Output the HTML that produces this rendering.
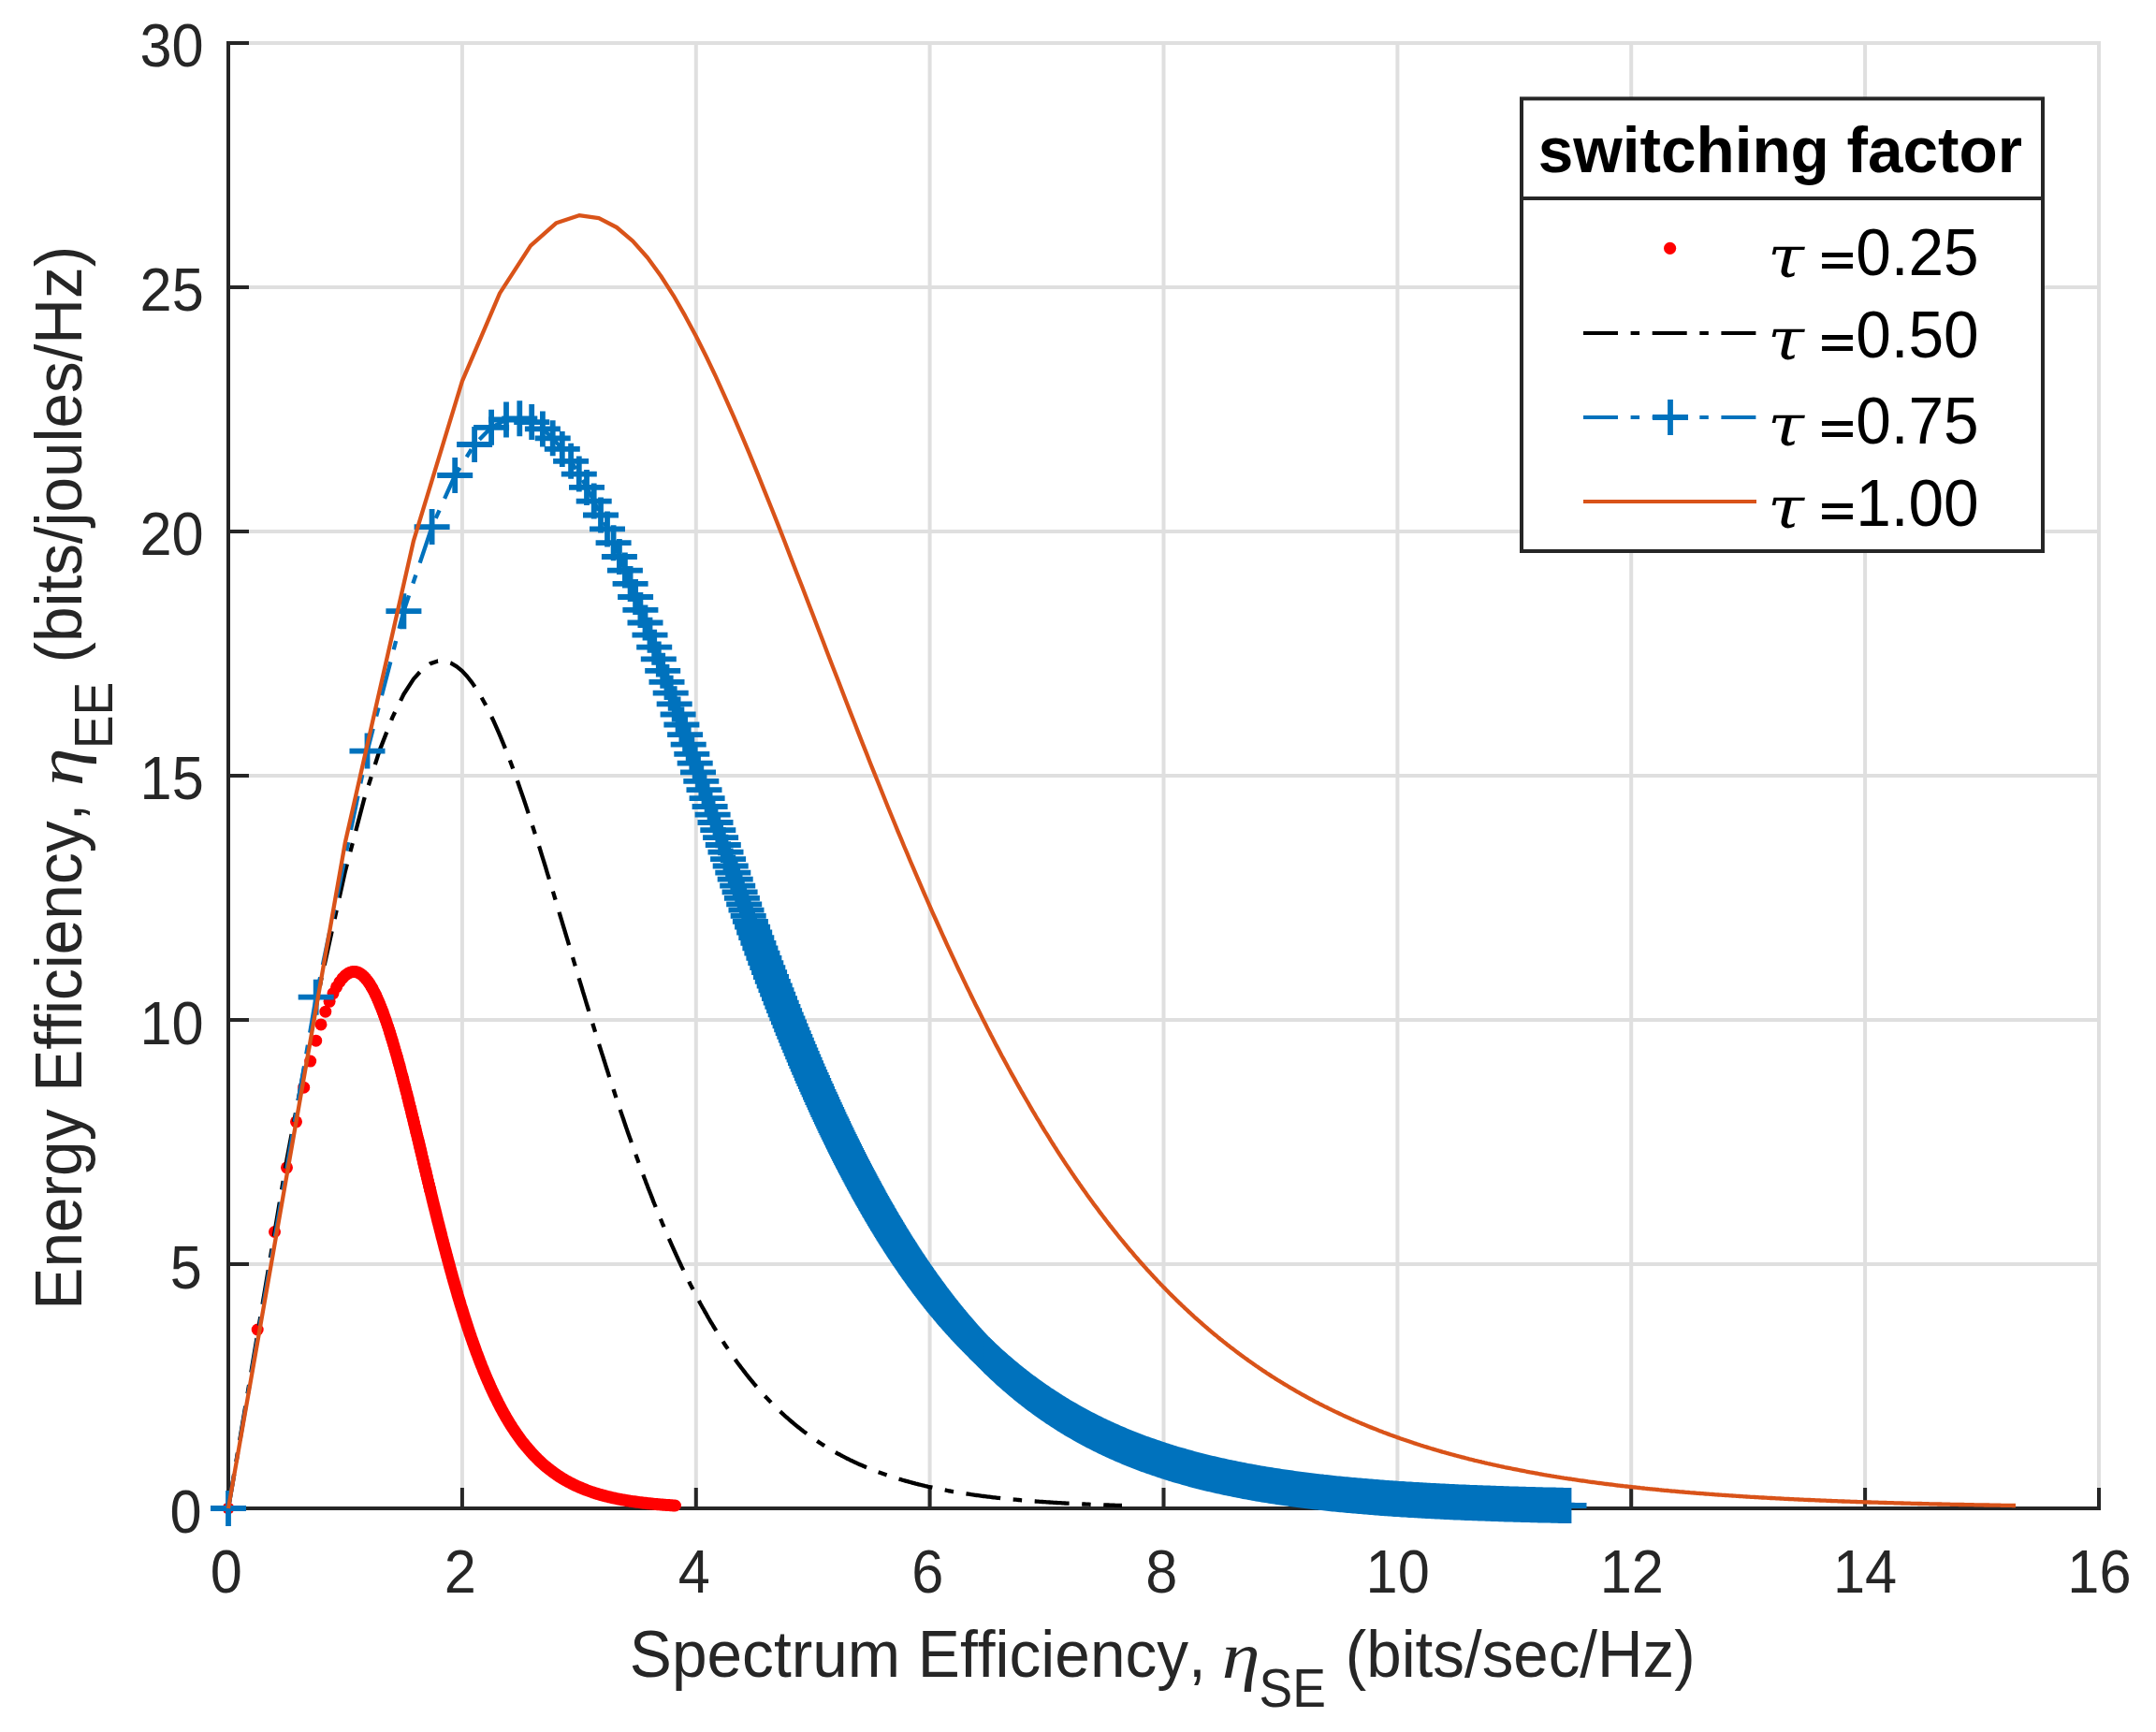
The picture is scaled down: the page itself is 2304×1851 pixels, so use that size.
<!DOCTYPE html>
<html><head><meta charset="utf-8"><title>Energy Efficiency vs Spectrum Efficiency</title>
<style>html,body{margin:0;padding:0;background:#fff;overflow:hidden}svg{display:block}text{font-family:"Liberation Sans",sans-serif;font-kerning:none;font-variant-ligatures:none;font-feature-settings:"liga" 0,"kern" 0}.gr{font-family:"Liberation Serif",serif;font-style:italic}.gd{font-family:"DejaVu Serif","Liberation Serif",serif;font-style:italic}.ds{font-family:"DejaVu Sans","Liberation Sans",sans-serif}</style></head><body>
<svg width="2304" height="1851" viewBox="0 0 2304 1851">
<rect width="2304" height="1851" fill="#fff"/>
<path d="M493.9 44 V1612 M743.8 44 V1612 M993.6 44 V1612 M1243.5 44 V1612 M1493.4 44 V1612 M1743.2 44 V1612 M1993.1 44 V1612 M2243 44 V1612 M244 1351 H2245 M244 1090 H2245 M244 829 H2245 M244 568 H2245 M244 307 H2245 M244 46 H2245" stroke="#dfdfdf" stroke-width="4" fill="none"/>
<path d="M244 44 V1614 M242 1612 H2245 M244 1612 V1590 M493.9 1612 V1590 M743.8 1612 V1590 M993.6 1612 V1590 M1243.5 1612 V1590 M1493.4 1612 V1590 M1743.2 1612 V1590 M1993.1 1612 V1590 M2243 1612 V1590 M244 1612 H266 M244 1351 H266 M244 1090 H266 M244 829 H266 M244 568 H266 M244 307 H266 M244 46 H266" stroke="#262626" stroke-width="4" fill="none"/>
<g fill="#262626">
<text transform="translate(224.75,1701.60) scale(1,1.05)" font-size="61.3">0</text>
<text transform="translate(474.63,1701.60) scale(1,1.05)" font-size="61.3">2</text>
<text transform="translate(724.70,1701.60) scale(1,1.05)" font-size="61.3">4</text>
<text transform="translate(974.17,1701.60) scale(1,1.05)" font-size="61.3">6</text>
<text transform="translate(1224.25,1701.60) scale(1,1.05)" font-size="61.3">8</text>
<text transform="translate(1459.55,1701.60) scale(1,1.05)" font-size="61.3">10</text>
<text transform="translate(1709.76,1701.60) scale(1,1.05)" font-size="61.3">12</text>
<text transform="translate(1959.00,1701.60) scale(1,1.05)" font-size="61.3">14</text>
<text transform="translate(2209.32,1701.60) scale(1,1.05)" font-size="61.3">16</text>
<text transform="translate(181.50,1638.00) scale(1,1.05)" font-size="61.3">0</text>
<text transform="translate(181.68,1376.78) scale(1,1.05)" font-size="61.3">5</text>
<text transform="translate(149.41,1115.57) scale(1,1.05)" font-size="61.3">10</text>
<text transform="translate(149.59,854.35) scale(1,1.05)" font-size="61.3">15</text>
<text transform="translate(149.41,593.13) scale(1,1.05)" font-size="61.3">20</text>
<text transform="translate(149.59,331.92) scale(1,1.05)" font-size="61.3">25</text>
<text transform="translate(149.41,70.70) scale(1,1.05)" font-size="61.3">30</text>
</g>
<g fill="#262626">
<text transform="translate(672.83,1792.00) scale(1,1.04)" font-size="67.6">Spectrum Efficiency,</text>
<text transform="translate(1305.86,1793.26) scale(1.192,1)" font-size="69.09" class="gr">η</text>
<text transform="translate(1345.57,1823.90) scale(1,1.055)" font-size="53.5">SE</text>
<text transform="translate(1437.83,1792.00) scale(1,1.04)" font-size="67.3">(bits/sec/Hz)</text>
<g transform="translate(87,0) rotate(-90)">
<text transform="translate(-1399.65,0.00) scale(1,1.04)" font-size="67.6">Energy Efficiency,</text>
<text transform="translate(-840.14,1.26) scale(1.192,1)" font-size="69.09" class="gr">η</text>
<text transform="translate(-800.19,33.00) scale(1,1.055)" font-size="53.5">EE</text>
<text transform="translate(-708.48,0.00) scale(1,1.04)" font-size="67.4">(bits/joules/Hz)</text>
</g></g>
<g fill="#ff0000">
<circle cx="244" cy="1612" r="6.5"/>
<circle cx="275.2" cy="1421" r="6.5"/>
<circle cx="293.5" cy="1316.5" r="6.5"/>
<circle cx="306.5" cy="1247.8" r="6.5"/>
<circle cx="316.5" cy="1198.8" r="6.5"/>
<circle cx="324.7" cy="1162.2" r="6.5"/>
<circle cx="331.7" cy="1134.1" r="6.5"/>
<circle cx="337.7" cy="1112.2" r="6.5"/>
<circle cx="343" cy="1094.9" r="6.5"/>
<circle cx="347.8" cy="1081.2" r="6.5"/>
<circle cx="352.1" cy="1070.3" r="6.5"/>
<circle cx="356" cy="1061.6" r="6.5"/>
<circle cx="359.6" cy="1054.8" r="6.5"/>
<circle cx="362.9" cy="1049.5" r="6.5"/>
<circle cx="366" cy="1045.5" r="6.5"/>
<circle cx="368.9" cy="1042.5" r="6.5"/>
<circle cx="371.7" cy="1040.5" r="6.5"/>
<circle cx="374.2" cy="1039.2" r="6.5"/>
<circle cx="376.7" cy="1038.5" r="6.5"/>
<circle cx="379" cy="1038.4" r="6.5"/>
<circle cx="381.2" cy="1038.8" r="6.5"/>
<circle cx="383.3" cy="1039.6" r="6.5"/>
<circle cx="385.3" cy="1040.7" r="6.5"/>
<circle cx="387.2" cy="1042.2" r="6.5"/>
<circle cx="389" cy="1043.9" r="6.5"/>
<circle cx="390.8" cy="1045.8" r="6.5"/>
<circle cx="392.5" cy="1047.9" r="6.5"/>
<circle cx="394.2" cy="1050.2" r="6.5"/>
<circle cx="395.7" cy="1052.6" r="6.5"/>
<circle cx="397.3" cy="1055.2" r="6.5"/>
<circle cx="398.7" cy="1057.8" r="6.5"/>
<circle cx="400.2" cy="1060.6" r="6.5"/>
<circle cx="401.6" cy="1063.4" r="6.5"/>
<circle cx="402.9" cy="1066.3" r="6.5"/>
<circle cx="404.2" cy="1069.3" r="6.5"/>
<circle cx="405.5" cy="1072.3" r="6.5"/>
<circle cx="406.7" cy="1075.3" r="6.5"/>
<circle cx="407.9" cy="1078.3" r="6.5"/>
<circle cx="409.1" cy="1081.4" r="6.5"/>
<circle cx="410.2" cy="1084.5" r="6.5"/>
<circle cx="411.3" cy="1087.6" r="6.5"/>
<circle cx="412.4" cy="1090.7" r="6.5"/>
<circle cx="413.5" cy="1093.9" r="6.5"/>
<circle cx="414.5" cy="1097" r="6.5"/>
<circle cx="415.5" cy="1100.1" r="6.5"/>
<circle cx="416.5" cy="1103.2" r="6.5"/>
<circle cx="417.5" cy="1106.3" r="6.5"/>
<circle cx="418.4" cy="1109.4" r="6.5"/>
<circle cx="419.4" cy="1112.4" r="6.5"/>
<circle cx="420.3" cy="1115.5" r="6.5"/>
<circle cx="421.2" cy="1118.5" r="6.5"/>
<circle cx="422" cy="1121.5" r="6.5"/>
<circle cx="422.9" cy="1124.5" r="6.5"/>
<circle cx="423.8" cy="1127.5" r="6.5"/>
<circle cx="424.6" cy="1130.4" r="6.5"/>
<circle cx="425.4" cy="1133.4" r="6.5"/>
<circle cx="426.2" cy="1136.3" r="6.5"/>
<circle cx="427" cy="1139.1" r="6.5"/>
<circle cx="427.7" cy="1142" r="6.5"/>
<circle cx="428.5" cy="1144.8" r="6.5"/>
<circle cx="429.2" cy="1147.6" r="6.5"/>
<circle cx="430" cy="1150.4" r="6.5"/>
<circle cx="430.7" cy="1153.2" r="6.5"/>
<circle cx="431.4" cy="1155.9" r="6.5"/>
<circle cx="432.1" cy="1158.6" r="6.5"/>
<circle cx="432.8" cy="1161.3" r="6.5"/>
<circle cx="433.5" cy="1163.9" r="6.5"/>
<circle cx="434.1" cy="1166.5" r="6.5"/>
<circle cx="434.8" cy="1169.1" r="6.5"/>
<circle cx="435.4" cy="1171.7" r="6.5"/>
<circle cx="436.1" cy="1174.2" r="6.5"/>
<circle cx="436.7" cy="1176.8" r="6.5"/>
<circle cx="437.3" cy="1179.3" r="6.5"/>
<circle cx="437.9" cy="1181.7" r="6.5"/>
<circle cx="438.6" cy="1184.2" r="6.5"/>
<circle cx="439.2" cy="1186.6" r="6.5"/>
<circle cx="439.7" cy="1189" r="6.5"/>
<circle cx="440.3" cy="1191.4" r="6.5"/>
<circle cx="440.9" cy="1193.7" r="6.5"/>
<circle cx="441.5" cy="1196" r="6.5"/>
<circle cx="442" cy="1198.3" r="6.5"/>
<circle cx="442.6" cy="1200.6" r="6.5"/>
<circle cx="443.1" cy="1202.8" r="6.5"/>
<circle cx="443.7" cy="1205.1" r="6.5"/>
<circle cx="444.2" cy="1207.3" r="6.5"/>
<circle cx="444.7" cy="1209.5" r="6.5"/>
<circle cx="445.2" cy="1211.6" r="6.5"/>
<circle cx="445.8" cy="1213.8" r="6.5"/>
<circle cx="446.3" cy="1215.9" r="6.5"/>
<circle cx="446.8" cy="1218" r="6.5"/>
<circle cx="447.3" cy="1220" r="6.5"/>
<circle cx="447.8" cy="1222.1" r="6.5"/>
<circle cx="448.2" cy="1224.1" r="6.5"/>
<circle cx="448.7" cy="1226.1" r="6.5"/>
<circle cx="449.2" cy="1228.1" r="6.5"/>
<circle cx="449.7" cy="1230.1" r="6.5"/>
<circle cx="450.1" cy="1232" r="6.5"/>
<circle cx="450.6" cy="1233.9" r="6.5"/>
<circle cx="451.1" cy="1235.9" r="6.5"/>
<circle cx="451.5" cy="1237.7" r="6.5"/>
<circle cx="452" cy="1239.6" r="6.5"/>
<circle cx="452.4" cy="1241.5" r="6.5"/>
<circle cx="452.8" cy="1243.3" r="6.5"/>
<circle cx="453.3" cy="1245.1" r="6.5"/>
<circle cx="453.7" cy="1246.9" r="6.5"/>
<circle cx="454.1" cy="1248.7" r="6.5"/>
<circle cx="454.6" cy="1250.5" r="6.5"/>
<circle cx="455" cy="1252.2" r="6.5"/>
<circle cx="455.4" cy="1253.9" r="6.5"/>
<circle cx="455.8" cy="1255.6" r="6.5"/>
<circle cx="456.2" cy="1257.3" r="6.5"/>
<circle cx="456.6" cy="1259" r="6.5"/>
<circle cx="457" cy="1260.7" r="6.5"/>
<circle cx="457.4" cy="1262.3" r="6.5"/>
<circle cx="457.8" cy="1263.9" r="6.5"/>
<circle cx="458.2" cy="1265.6" r="6.5"/>
<circle cx="458.6" cy="1267.2" r="6.5"/>
<circle cx="459" cy="1268.7" r="6.5"/>
<circle cx="459.4" cy="1270.3" r="6.5"/>
<circle cx="459.7" cy="1271.9" r="6.5"/>
</g>
<polyline points="459.7,1271.9 460.1,1273.4 460.5,1274.9 460.8,1276.4 461.2,1277.9 461.6,1279.4 461.9,1280.9 462.6,1283.8 463.3,1286.6 464,1289.4 464.7,1292.2 465.4,1294.9 466,1297.5 466.7,1300.1 467.3,1302.7 467.9,1305.2 468.6,1307.7 469.2,1310.1 469.8,1312.5 470.4,1314.9 471,1317.2 471.6,1319.5 472.1,1321.7 472.7,1323.9 473.3,1326.1 473.8,1328.2 474.4,1330.3 474.9,1332.4 475.4,1334.4 476,1336.4 476.5,1338.4 477,1340.3 477.5,1342.3 478,1344.1 478.5,1346 479,1347.8 479.5,1349.6 480,1351.4 480.4,1353.2 480.9,1354.9 481.4,1356.6 481.8,1358.3 482.3,1359.9 482.8,1361.6 483.2,1363.2 483.6,1364.8 484.1,1366.3 484.5,1367.9 484.9,1369.4 485.4,1370.9 485.8,1372.4 486.2,1373.9 486.6,1375.3 487.3,1377.5 487.9,1379.6 488.5,1381.6 489,1383.6 489.6,1385.6 490.2,1387.6 490.8,1389.5 491.3,1391.3 491.9,1393.2 492.4,1395 493,1396.8 493.5,1398.5 494.1,1400.2 494.6,1401.9 495.1,1403.6 495.6,1405.2 496.1,1406.8 496.6,1408.4 497.1,1409.9 497.6,1411.5 498.1,1413 498.6,1414.4 499,1415.9 499.5,1417.3 500.1,1419.2 500.7,1421 501.3,1422.8 501.9,1424.6 502.5,1426.3 503.1,1428 503.6,1429.7 504.2,1431.3 504.8,1432.9 505.3,1434.5 505.9,1436 506.4,1437.5 506.9,1439 507.5,1440.5 508,1441.9 508.6,1443.6 509.2,1445.4 509.9,1447 510.5,1448.7 511.1,1450.3 511.7,1451.9 512.3,1453.4 512.8,1454.9 513.4,1456.4 514,1457.8 514.5,1459.2 515.2,1460.9 515.9,1462.5 516.5,1464.1 517.1,1465.7 517.8,1467.2 518.4,1468.7 519,1470.2 519.6,1471.6 520.2,1473 520.9,1474.6 521.5,1476.1 522.2,1477.6 522.9,1479.1 523.5,1480.5 524.1,1482 524.8,1483.3 525.5,1484.9 526.2,1486.4 526.8,1487.8 527.5,1489.3 528.2,1490.6 528.8,1492 529.5,1493.5 530.3,1494.9 531,1496.3 531.7,1497.7 532.3,1499.1 533.1,1500.5 533.8,1501.9 534.5,1503.3 535.2,1504.6 536,1506.1 536.8,1507.5 537.5,1508.8 538.2,1510.1 539,1511.5 539.8,1512.9 540.5,1514.2 541.3,1515.6 542.1,1516.9 542.9,1518.2 543.7,1519.6 544.5,1520.9 545.3,1522.2 546.2,1523.5 547,1524.8 547.8,1526.1 548.7,1527.4 549.6,1528.7 550.4,1530 551.3,1531.3 552.2,1532.6 553.1,1533.9 554,1535.1 554.9,1536.4 555.8,1537.6 556.7,1538.9 557.6,1540.1 558.6,1541.3 559.5,1542.5 560.5,1543.7 561.4,1544.9 562.4,1546 563.4,1547.2 564.4,1548.4 565.4,1549.5 566.4,1550.7 567.4,1551.8 568.4,1552.9 569.4,1554.1 570.5,1555.2 571.5,1556.3 572.6,1557.3 573.6,1558.4 574.7,1559.5 575.8,1560.6 576.9,1561.6 578,1562.6 579.2,1563.7 580.3,1564.7 581.4,1565.7 582.6,1566.7 583.7,1567.6 584.9,1568.6 586.1,1569.5 587.3,1570.5 588.5,1571.4 589.7,1572.3 590.9,1573.2 592.1,1574.1 593.4,1575 594.6,1575.9 595.9,1576.7 597.1,1577.6 598.4,1578.4 599.7,1579.2 600.9,1580 602.2,1580.8 603.5,1581.5 604.8,1582.3 606.2,1583 607.5,1583.7 608.8,1584.4 610.1,1585.1 611.5,1585.8 612.8,1586.5 614.2,1587.2 615.6,1587.8 616.9,1588.4 618.3,1589 619.7,1589.7 621.1,1590.2 622.4,1590.8 623.8,1591.4 625.2,1591.9 626.7,1592.5 628.1,1593 629.5,1593.5 630.9,1594 632.3,1594.5 633.8,1595 635.2,1595.5 636.6,1595.9 638,1596.4 639.5,1596.8 640.9,1597.2 642.4,1597.6 643.8,1598 645.3,1598.4 646.7,1598.8 648.2,1599.2 649.7,1599.5 651.1,1599.9 652.6,1600.2 654,1600.6 655.5,1600.9 657,1601.2 658.4,1601.5 659.9,1601.8 661.4,1602.1 662.9,1602.4 664.3,1602.7 665.8,1602.9 667.3,1603.2 668.8,1603.5 670.3,1603.7 671.7,1603.9 673.2,1604.2 674.7,1604.4 676.2,1604.6 677.7,1604.8 679.2,1605 680.7,1605.2 682.2,1605.4 683.6,1605.6 685.1,1605.8 686.6,1606 688.1,1606.2 689.6,1606.3 691.1,1606.5 692.6,1606.7 694.1,1606.8 695.6,1607 697.1,1607.1 698.6,1607.3 700.1,1607.4 701.6,1607.5 703,1607.7 704.5,1607.8 706,1607.9 707.5,1608 709,1608.2 710.5,1608.3 712,1608.4 713.5,1608.5 715,1608.6 716.5,1608.7 718,1608.8 719.5,1608.9 721,1609 721.5,1609" fill="none" stroke="#ff0000" stroke-width="13" stroke-linecap="round" stroke-linejoin="round"/>
<polyline points="244,1612 306.5,1239.1 343,1047.9 368.9,931.1 389,854.5 405.5,802.4 419.4,766.6 431.4,742 442,725.6 451.5,715.1 460.1,709.1 467.9,706.5 475.2,706.5 481.8,708.6 488.1,712.3 493.9,717.1 499.3,723 504.5,729.6 509.4,736.7 514,744.3 518.4,752.2 522.6,760.4 526.6,768.7 530.4,777.1 534.1,785.6 537.6,794.1 541,802.6 544.3,811.1 547.5,819.5 550.5,827.9 553.5,836.2 556.3,844.4 559.1,852.4 561.8,860.4 564.4,868.3 567,876 569.4,883.6 571.8,891.1 574.2,898.5 576.5,905.7 578.7,912.8 580.9,919.8 583,926.7 585,933.5 587.1,940.1 589.1,946.6 591,953 592.9,959.3 594.7,965.5 596.6,971.5 598.3,977.5 600.1,983.3 601.8,989.1 603.5,994.7 605.2,1000.3 606.8,1005.7 608.4,1011.1 609.9,1016.3 611.5,1021.5 613,1026.5 614.5,1031.5 616,1036.4 617.4,1041.2 618.8,1046 620.2,1050.6 621.6,1055.2 622.9,1059.7 624.3,1064.1 625.6,1068.5 626.9,1072.8 628.2,1077 629.4,1081.1 630.7,1085.2 631.9,1089.2 633.1,1093.2 634.3,1097 635.5,1100.9 636.6,1104.6 637.8,1108.3 638.9,1112 640,1115.6 641.1,1119.1 642.2,1122.6 643.3,1126.1 644.4,1129.4 645.4,1132.8 646.5,1136.1 647.5,1139.3 648.5,1142.5 649.5,1145.7 650.5,1148.8 651.5,1151.8 652.5,1154.8 653.5,1157.8 654.4,1160.8 655.4,1163.6 656.3,1166.5 657.2,1169.3 658.1,1172.1 659,1174.8 659.9,1177.6 660.8,1180.2 661.7,1182.9 662.6,1185.5 663.4,1188 664.3,1190.6 665.1,1193.1 666,1195.5 666.8,1198 667.6,1200.4 668.4,1202.8 669.2,1205.1 670,1207.4 670.8,1209.7 671.6,1212 672.4,1214.2 673.2,1216.4 674,1218.6 674.7,1220.8 675.5,1222.9 676.2,1225 677,1227.1 677.7,1229.2 678.4,1231.2 679.1,1233.2 679.9,1235.2 680.6,1237.2 681.3,1239.1 682,1241.1 682.7,1243 683.4,1244.9 684.1,1246.7 684.7,1248.6 685.4,1250.4 686.1,1252.2 686.7,1254 687.4,1255.7 688.1,1257.5 688.7,1259.2 689.4,1260.9 690,1262.6 690.6,1264.3 691.3,1265.9 691.9,1267.6 692.5,1269.2 693.1,1270.8 693.8,1272.4 694.4,1274 695,1275.5 695.6,1277.1 696.2,1278.6 696.8,1280.1 697.4,1281.6 697.9,1283.1 698.5,1284.6 699.1,1286 699.7,1287.5 700.3,1288.9 700.8,1290.3 701.4,1291.7 702.5,1294.5 703.6,1297.2 704.7,1299.9 705.8,1302.5 706.9,1305 707.9,1307.6 709,1310 710,1312.5 711,1314.9 712,1317.2 713,1319.5 714,1321.8 715,1324 715.9,1326.2 716.9,1328.4 717.8,1330.5 718.8,1332.6 719.7,1334.7 720.6,1336.7 721.5,1338.7 722.4,1340.7 723.3,1342.6 724.2,1344.5 725,1346.4 725.9,1348.2 726.8,1350.1 727.6,1351.8 728.4,1353.6 729.3,1355.4 730.1,1357.1 730.9,1358.8 731.7,1360.4 732.5,1362.1 733.3,1363.7 734.1,1365.3 734.9,1366.9 735.7,1368.4 736.4,1370 737.2,1371.5 737.9,1373 738.7,1374.4 739.4,1375.9 740.2,1377.3 740.9,1378.7 741.6,1380.1 742.3,1381.5 743,1382.9 743.8,1384.2 744.5,1385.5 745.5,1387.5 746.5,1389.4 747.5,1391.3 748.5,1393.2 749.5,1395 750.5,1396.8 751.5,1398.5 752.5,1400.3 753.4,1402 754.4,1403.6 755.3,1405.3 756.2,1406.9 757.1,1408.5 758,1410 758.9,1411.6 759.8,1413.1 760.7,1414.5 761.6,1416 762.4,1417.4 763.3,1418.9 764.1,1420.2 765,1421.6 765.8,1423 766.6,1424.3 767.4,1425.6 768.3,1426.9 769.1,1428.2 770.1,1429.8 771.2,1431.5 772.2,1433.1 773.2,1434.6 774.2,1436.2 775.2,1437.7 776.2,1439.2 777.2,1440.6 778.2,1442.1 779.1,1443.5 780.1,1444.9 781,1446.2 781.9,1447.6 782.8,1448.9 783.7,1450.2 784.6,1451.4 785.5,1452.7 786.4,1453.9 787.5,1455.4 788.6,1456.9 789.6,1458.3 790.7,1459.7 791.7,1461.1 792.8,1462.5 793.8,1463.8 794.8,1465.1 795.8,1466.4 796.8,1467.7 797.7,1468.9 798.7,1470.1 799.6,1471.3 800.6,1472.5 801.7,1473.8 802.8,1475.2 803.9,1476.5 805,1477.8 806,1479.1 807.1,1480.3 808.1,1481.5 809.2,1482.7 810.2,1483.9 811.2,1485 812.2,1486.2 813.3,1487.5 814.5,1488.7 815.6,1490 816.7,1491.2 817.8,1492.3 818.8,1493.5 819.9,1494.6 821,1495.7 822,1496.8 823.2,1498 824.3,1499.2 825.5,1500.4 826.6,1501.5 827.7,1502.6 828.8,1503.7 829.9,1504.8 831.1,1506 832.3,1507.1 833.5,1508.2 834.7,1509.3 835.8,1510.4 836.9,1511.4 838.1,1512.5 839.3,1513.6 840.5,1514.6 841.7,1515.7 842.9,1516.7 844,1517.8 845.2,1518.7 846.4,1519.8 847.7,1520.8 848.9,1521.8 850.1,1522.8 851.3,1523.8 852.4,1524.7 853.7,1525.7 854.9,1526.7 856.1,1527.7 857.4,1528.6 858.6,1529.6 859.9,1530.6 861.2,1531.5 862.4,1532.4 863.6,1533.3 864.9,1534.3 866.2,1535.2 867.4,1536.1 868.7,1536.9 870,1537.8 871.3,1538.7 872.6,1539.6 873.8,1540.4 875.1,1541.3 876.4,1542.2 877.7,1543 879,1543.8 880.3,1544.6 881.6,1545.5 882.9,1546.3 884.2,1547.1 885.6,1547.9 886.9,1548.7 888.2,1549.5 889.6,1550.2 890.9,1551 892.3,1551.8 893.6,1552.5 894.9,1553.3 896.3,1554 897.6,1554.7 899,1555.5 900.3,1556.2 901.7,1556.9 903.1,1557.6 904.5,1558.3 905.8,1559 907.2,1559.7 908.6,1560.4 910,1561 911.4,1561.7 912.7,1562.3 914.1,1563 915.5,1563.6 916.9,1564.3 918.3,1564.9 919.7,1565.5 921.1,1566.1 922.5,1566.7 923.9,1567.3 925.3,1567.9 926.7,1568.5 928.1,1569.1 929.5,1569.7 930.9,1570.2 932.3,1570.8 933.8,1571.4 935.2,1571.9 936.6,1572.4 938,1573 939.4,1573.5 940.9,1574 942.3,1574.5 943.7,1575 945.1,1575.5 946.6,1576 948,1576.5 949.5,1577 950.9,1577.5 952.3,1578 953.8,1578.4 955.2,1578.9 956.7,1579.4 958.1,1579.8 959.6,1580.3 961,1580.7 962.5,1581.1 963.9,1581.6 965.4,1582 966.8,1582.4 968.3,1582.8 969.8,1583.2 971.2,1583.6 972.7,1584 974.1,1584.4 975.6,1584.8 977.1,1585.2 978.5,1585.6 980,1585.9 981.5,1586.3 982.9,1586.7 984.4,1587 985.9,1587.4 987.4,1587.7 988.8,1588.1 990.3,1588.4 991.8,1588.8 993.3,1589.1 994.7,1589.4 996.2,1589.7 997.7,1590 999.2,1590.4 1000.6,1590.7 1002.1,1591 1003.6,1591.3 1005.1,1591.6 1006.5,1591.9 1008,1592.1 1009.5,1592.4 1011,1592.7 1012.5,1593 1013.9,1593.3 1015.4,1593.5 1016.9,1593.8 1018.4,1594.1 1019.9,1594.3 1021.4,1594.6 1022.9,1594.8 1024.4,1595.1 1025.8,1595.3 1027.3,1595.6 1028.8,1595.8 1030.3,1596 1031.8,1596.3 1033.3,1596.5 1034.8,1596.7 1036.3,1596.9 1037.8,1597.2 1039.3,1597.4 1040.8,1597.6 1042.2,1597.8 1043.7,1598 1045.2,1598.2 1046.7,1598.4 1048.2,1598.6 1049.7,1598.8 1051.2,1599 1052.7,1599.2 1054.2,1599.4 1055.7,1599.6 1057.2,1599.7 1058.7,1599.9 1060.1,1600.1 1061.6,1600.3 1063.1,1600.4 1064.6,1600.6 1066.1,1600.8 1067.6,1600.9 1069.1,1601.1 1070.6,1601.3 1072.1,1601.4 1073.6,1601.6 1075.1,1601.7 1076.6,1601.9 1078.1,1602 1079.6,1602.2 1081.1,1602.3 1082.6,1602.5 1084.1,1602.6 1085.6,1602.7 1087.1,1602.9 1088.6,1603 1090.1,1603.1 1091.6,1603.3 1093.1,1603.4 1094.6,1603.5 1096.1,1603.6 1097.6,1603.8 1099.1,1603.9 1100.6,1604 1102.1,1604.1 1103.6,1604.2 1105.1,1604.4 1106.6,1604.5 1108.1,1604.6 1109.6,1604.7 1111.1,1604.8 1112.6,1604.9 1114.1,1605 1115.6,1605.1 1117.1,1605.2 1118.6,1605.3 1120.1,1605.4 1121.6,1605.5 1123.1,1605.6 1124.6,1605.7 1126.1,1605.8 1127.6,1605.9 1129.1,1606 1130.6,1606.1 1132.1,1606.2 1133.6,1606.2 1135.1,1606.3 1136.6,1606.4 1138.1,1606.5 1139.6,1606.6 1141.1,1606.7 1142.6,1606.7 1144.1,1606.8 1145.6,1606.9 1147.1,1607 1148.6,1607 1150.1,1607.1 1151.6,1607.2 1153.1,1607.3 1154.6,1607.3 1156.1,1607.4 1157.6,1607.5 1159.1,1607.5 1160.6,1607.6 1162.1,1607.7 1163.6,1607.7 1165.1,1607.8 1166.6,1607.9 1168.1,1607.9 1169.6,1608 1171.1,1608 1172.6,1608.1 1174.1,1608.2 1175.6,1608.2 1177.1,1608.3 1178.6,1608.3 1180.1,1608.4 1181.6,1608.4 1183.1,1608.5 1184.6,1608.5 1186.1,1608.6 1187.6,1608.6 1189.1,1608.7 1190.6,1608.7 1192.1,1608.8 1193.6,1608.8 1195.1,1608.9 1196.6,1608.9 1198.1,1609 1199,1609" fill="none" stroke="#000" stroke-width="4.3" stroke-dasharray="37 13.6 9.5 13.6" stroke-linejoin="round"/>
<polyline points="244,1612 337.7,1065.7 392.5,802.6 431.4,653.2 461.6,563.1 486.2,508 507.1,475 525.1,456.8 541,448.5 555.3,447.3 568.2,451.1 579.9,458.4 590.7,468.3 600.8,479.9 610.1,492.8 618.8,506.6 627,520.9 634.7,535.6 642,550.5 649,565.4 655.6,580.2 661.9,595 667.9,609.6 673.6,623.9 679.1,638 684.4,651.9 689.5,665.5 694.5,678.7 699.2,691.7 703.8,704.4 708.2,716.8 712.5,728.9 716.7,740.7 720.7,752.3 724.6,763.5 728.4,774.5 732.1,785.2 735.7,795.6 739.3,805.8 742.7,815.7 746,825.4 749.3,834.9 752.5,844.2 755.6,853.2 758.6,862 761.6,870.6 764.5,879 767.3,887.2 770.1,895.2 772.8,903 775.5,910.7 778.1,918.2 780.7,925.5 783.3,932.7 785.7,939.7 788.2,946.6 790.6,953.3 792.9,959.8 795.2,966.3 797.5,972.6 799.7,978.8 801.9,984.8 804.1,990.7 806.2,996.5 808.3,1002.2 810.4,1007.8 812.4,1013.3 814.4,1018.7 816.4,1023.9 818.3,1029.1 820.3,1034.2 822.1,1039.1 824,1044 825.8,1048.8 827.7,1053.5 829.5,1058.2 831.2,1062.7 833,1067.2 834.7,1071.6 836.4,1075.9 838.1,1080.1 839.7,1084.3 841.4,1088.4 843,1092.4 844.6,1096.4 846.2,1100.3 847.7,1104.1 849.3,1107.9 850.8,1111.6 852.3,1115.3 853.8,1118.9 855.3,1122.4 856.7,1125.9 858.2,1129.3 859.6,1132.7 861,1136.1 862.4,1139.3 863.8,1142.6 865.2,1145.8 866.6,1148.9 867.9,1152 869.2,1155 870.5,1158.1 871.9,1161 873.1,1163.9 874.4,1166.8 875.7,1169.7 877,1172.5 878.2,1175.2 879.4,1178 880.7,1180.6 881.9,1183.3 883.1,1185.9 884.3,1188.5 885.4,1191.1 886.6,1193.6 887.8,1196.1 888.9,1198.5 890.1,1200.9 891.2,1203.3 892.3,1205.7 893.4,1208 894.5,1210.3 895.6,1212.6 896.7,1214.8 897.8,1217.1 898.9,1219.3 899.9,1221.4 901,1223.6 902,1225.7 903.1,1227.8 904.1,1229.8 905.1,1231.9 906.1,1233.9 907.1,1235.9 908.1,1237.9 909.1,1239.8 910.1,1241.8 911.1,1243.7 912,1245.6 913,1247.4 914,1249.3 914.9,1251.1 915.8,1252.9 916.8,1254.7 917.7,1256.4 918.6,1258.2 919.5,1259.9 920.5,1261.6 921.4,1263.3 922.3,1265 923.2,1266.7 924,1268.3 924.9,1269.9 925.8,1271.5 926.7,1273.1 927.5,1274.7 928.4,1276.3 929.2,1277.8 930.1,1279.3 930.9,1280.8 931.8,1282.3 932.6,1283.8 933.4,1285.3 934.2,1286.7 935.1,1288.2 935.9,1289.6 936.7,1291 937.5,1292.4 938.3,1293.8 939.1,1295.2 939.9,1296.6 940.6,1297.9 941.4,1299.2 942.2,1300.6 943,1301.9 943.7,1303.2 945.3,1305.7 946.8,1308.3 948.2,1310.7 949.7,1313.2 951.2,1315.6 952.6,1317.9 954,1320.2 955.4,1322.5 956.8,1324.7 958.2,1326.9 959.6,1329.1 960.9,1331.2 962.3,1333.3 963.6,1335.3 964.9,1337.3 966.2,1339.3 967.5,1341.3 968.8,1343.2 970,1345.1 971.3,1347 972.5,1348.8 973.8,1350.7 975,1352.4 976.2,1354.2 977.4,1355.9 978.6,1357.7 979.7,1359.3 980.9,1361 982.1,1362.6 983.2,1364.3 984.3,1365.9 985.5,1367.4 986.6,1369 987.7,1370.5 988.8,1372 989.9,1373.5 991,1375 992,1376.4 993.1,1377.9 994.2,1379.3 995.2,1380.7 996.2,1382 997.3,1383.4 998.3,1384.7 999.3,1386.1 1000.3,1387.4 1001.3,1388.6 1002.3,1389.9 1003.3,1391.2 1004.3,1392.4 1005.3,1393.7 1006.2,1394.9 1007.2,1396.1 1008.1,1397.3 1009.1,1398.4 1010.5,1400.2 1011.9,1401.9 1013.3,1403.5 1014.6,1405.2 1016,1406.8 1017.3,1408.4 1018.6,1409.9 1019.9,1411.5 1021.2,1413 1022.5,1414.5 1023.8,1415.9 1025.1,1417.4 1026.3,1418.8 1027.5,1420.2 1028.8,1421.6 1030,1422.9 1031.2,1424.2 1032.4,1425.6 1033.6,1426.8 1034.7,1428.1 1035.9,1429.4 1037.1,1430.6 1038.2,1431.8 1039.3,1433 1040.5,1434.2 1041.6,1435.4 1042.7,1436.5 1043.8,1437.7 1044.9,1438.8 1046,1439.9 1047,1441 1048.1,1442 1049.5,1443.4 1050.9,1444.8 1052.3,1446.2 1053.6,1447.5 1055,1448.8 1056.3,1450.1 1057.6,1451.4 1058.9,1452.6 1060.2,1453.9 1061.5,1455.1 1062.8,1456.3 1064,1457.4 1065.3,1458.6 1066.5,1459.7 1067.8,1460.8 1069,1461.9 1070.2,1463 1071.4,1464.1 1072.6,1465.1 1073.7,1466.1 1074.9,1467.2 1076,1468.2 1077.2,1469.1 1078.6,1470.3 1080,1471.5 1081.4,1472.7 1082.8,1473.8 1084.1,1475 1085.5,1476.1 1086.8,1477.2 1088.1,1478.2 1089.4,1479.3 1090.7,1480.3 1092,1481.3 1093.3,1482.3 1094.5,1483.3 1095.8,1484.3 1097,1485.2 1098.2,1486.2 1099.4,1487.1 1100.6,1488 1102.1,1489.1 1103.5,1490.1 1104.9,1491.2 1106.3,1492.2 1107.6,1493.2 1109,1494.2 1110.3,1495.1 1111.7,1496.1 1113,1497 1114.3,1497.9 1115.6,1498.8 1116.9,1499.7 1118.1,1500.5 1119.4,1501.4 1120.6,1502.2 1122.1,1503.2 1123.5,1504.1 1124.9,1505.1 1126.3,1506 1127.7,1506.9 1129,1507.7 1130.4,1508.6 1131.7,1509.4 1133,1510.3 1134.4,1511.1 1135.7,1511.9 1136.9,1512.7 1138.4,1513.6 1139.8,1514.4 1141.3,1515.3 1142.7,1516.1 1144.1,1517 1145.4,1517.8 1146.8,1518.6 1148.2,1519.3 1149.5,1520.1 1150.8,1520.8 1152.1,1521.6 1153.6,1522.4 1155.1,1523.2 1156.5,1524 1157.9,1524.8 1159.3,1525.5 1160.7,1526.3 1162.1,1527 1163.4,1527.7 1164.8,1528.4 1166.1,1529.1 1167.6,1529.8 1169,1530.6 1170.5,1531.3 1171.9,1532 1173.3,1532.7 1174.7,1533.4 1176.1,1534.1 1177.4,1534.7 1178.9,1535.4 1180.4,1536.1 1181.8,1536.8 1183.3,1537.5 1184.7,1538.1 1186.1,1538.8 1187.5,1539.4 1188.9,1540 1190.3,1540.7 1191.8,1541.4 1193.3,1542 1194.7,1542.6 1196.1,1543.3 1197.5,1543.9 1198.9,1544.5 1200.4,1545.1 1201.9,1545.7 1203.4,1546.3 1204.8,1546.9 1206.2,1547.5 1207.7,1548.1 1209.1,1548.6 1210.6,1549.2 1212,1549.8 1213.5,1550.4 1214.9,1550.9 1216.4,1551.5 1217.8,1552 1219.3,1552.6 1220.8,1553.1 1222.2,1553.7 1223.7,1554.2 1225.1,1554.7 1226.6,1555.2 1228.1,1555.8 1229.5,1556.3 1231,1556.8 1232.5,1557.3 1233.9,1557.8 1235.3,1558.3 1236.8,1558.8 1238.3,1559.3 1239.7,1559.8 1241.2,1560.3 1242.6,1560.7 1244.1,1561.2 1245.6,1561.7 1247.1,1562.1 1248.5,1562.6 1250,1563.1 1251.5,1563.5 1252.9,1564 1254.4,1564.4 1255.9,1564.9 1257.4,1565.3 1258.9,1565.7 1260.3,1566.2 1261.8,1566.6 1263.2,1567 1264.7,1567.4 1266.2,1567.9 1267.7,1568.3 1269.1,1568.7 1270.6,1569.1 1272.1,1569.5 1273.6,1569.9 1275.1,1570.3 1276.6,1570.7 1278.1,1571.1 1279.5,1571.5 1281,1571.8 1282.5,1572.2 1284,1572.6 1285.5,1573 1287,1573.3 1288.5,1573.7 1290,1574.1 1291.4,1574.4 1292.9,1574.8 1294.4,1575.1 1295.9,1575.5 1297.4,1575.8 1298.9,1576.2 1300.4,1576.5 1301.9,1576.9 1303.4,1577.2 1304.8,1577.5 1306.3,1577.8 1307.8,1578.2 1309.3,1578.5 1310.8,1578.8 1312.3,1579.1 1313.8,1579.4 1315.3,1579.8 1316.8,1580.1 1318.3,1580.4 1319.7,1580.7 1321.2,1581 1322.7,1581.3 1324.2,1581.6 1325.7,1581.9 1327.2,1582.1 1328.7,1582.4 1330.2,1582.7 1331.7,1583 1333.2,1583.3 1334.7,1583.5 1336.2,1583.8 1337.7,1584.1 1339.2,1584.4 1340.7,1584.6 1342.2,1584.9 1343.7,1585.2 1345.2,1585.4 1346.7,1585.7 1348.2,1585.9 1349.7,1586.2 1351.2,1586.4 1352.7,1586.7 1354.2,1586.9 1355.7,1587.2 1357.2,1587.4 1358.7,1587.6 1360.2,1587.9 1361.7,1588.1 1363.2,1588.3 1364.7,1588.6 1366.2,1588.8 1367.7,1589 1369.2,1589.2 1370.7,1589.5 1372.1,1589.7 1373.6,1589.9 1375.2,1590.1 1376.7,1590.3 1378.2,1590.5 1379.7,1590.7 1381.2,1590.9 1382.7,1591.1 1384.2,1591.4 1385.7,1591.6 1387.2,1591.8 1388.7,1591.9 1390.2,1592.1 1391.7,1592.3 1393.2,1592.5 1394.7,1592.7 1396.2,1592.9 1397.7,1593.1 1399.2,1593.3 1400.7,1593.5 1402.2,1593.6 1403.7,1593.8 1405.2,1594 1406.7,1594.2 1408.2,1594.3 1409.7,1594.5 1411.2,1594.7 1412.7,1594.9 1414.2,1595 1415.7,1595.2 1417.2,1595.4 1418.7,1595.5 1420.2,1595.7 1421.7,1595.8 1423.2,1596 1424.7,1596.1 1426.2,1596.3 1427.7,1596.5 1429.2,1596.6 1430.7,1596.8 1432.3,1596.9 1433.7,1597.1 1435.2,1597.2 1436.7,1597.3 1438.3,1597.5 1439.8,1597.6 1441.3,1597.8 1442.8,1597.9 1444.3,1598 1445.8,1598.2 1447.3,1598.3 1448.8,1598.5 1450.3,1598.6 1451.8,1598.7 1453.3,1598.8 1454.8,1599 1456.3,1599.1 1457.8,1599.2 1459.3,1599.4 1460.8,1599.5 1462.3,1599.6 1463.8,1599.7 1465.3,1599.9 1466.8,1600 1468.3,1600.1 1469.9,1600.2 1471.4,1600.3 1472.9,1600.4 1474.4,1600.6 1475.9,1600.7 1477.4,1600.8 1478.9,1600.9 1480.4,1601 1481.9,1601.1 1483.4,1601.2 1484.9,1601.3 1486.4,1601.4 1487.9,1601.5 1489.4,1601.6 1490.9,1601.7 1492.4,1601.8 1493.9,1601.9 1495.4,1602 1496.9,1602.1 1498.4,1602.2 1499.9,1602.3 1501.4,1602.4 1502.9,1602.5 1504.4,1602.6 1505.9,1602.7 1507.4,1602.8 1508.9,1602.9 1510.4,1603 1511.9,1603.1 1513.4,1603.1 1514.9,1603.2 1516.4,1603.3 1517.9,1603.4 1519.4,1603.5 1520.9,1603.6 1522.4,1603.7 1523.9,1603.7 1525.4,1603.8 1526.9,1603.9 1528.5,1604 1530,1604.1 1531.5,1604.1 1533,1604.2 1534.5,1604.3 1536,1604.4 1537.5,1604.4 1539,1604.5 1540.5,1604.6 1542,1604.7 1543.5,1604.7 1545,1604.8 1546.5,1604.9 1548,1605 1549.5,1605 1551,1605.1 1552.5,1605.2 1554,1605.2 1555.5,1605.3 1557,1605.4 1558.5,1605.4 1560,1605.5 1561.5,1605.6 1563,1605.6 1564.5,1605.7 1566,1605.8 1567.5,1605.8 1569,1605.9 1570.5,1605.9 1572,1606 1573.5,1606.1 1575,1606.1 1576.6,1606.2 1578.1,1606.2 1579.6,1606.3 1581.1,1606.3 1582.6,1606.4 1584.1,1606.5 1585.6,1606.5 1587.1,1606.6 1588.6,1606.6 1590.1,1606.7 1591.6,1606.7 1593.1,1606.8 1594.6,1606.8 1596.1,1606.9 1597.6,1606.9 1599.1,1607 1600.6,1607 1602.1,1607.1 1603.6,1607.1 1605.1,1607.2 1606.6,1607.2 1608.1,1607.3 1609.6,1607.3 1611.1,1607.4 1612.6,1607.4 1614.1,1607.5 1615.6,1607.5 1617.1,1607.6 1618.6,1607.6 1620.1,1607.6 1621.6,1607.7 1623.1,1607.7 1624.6,1607.8 1626.1,1607.8 1627.6,1607.9 1629.1,1607.9 1630.6,1607.9 1632.1,1608 1633.6,1608 1635.1,1608.1 1636.6,1608.1 1638.1,1608.1 1639.6,1608.2 1641.1,1608.2 1642.6,1608.2 1644.1,1608.3 1645.6,1608.3 1647.1,1608.4 1648.6,1608.4 1650.2,1608.4 1651.7,1608.5 1653.2,1608.5 1654.7,1608.5 1656.2,1608.6 1657.7,1608.6 1659.2,1608.6 1660.7,1608.7 1662.2,1608.7 1663.7,1608.7 1665.2,1608.8 1666.7,1608.8 1668.2,1608.8 1669.7,1608.9 1671.2,1608.9 1672.7,1608.9 1674.2,1609 1675.7,1609 1676.5,1609" fill="none" stroke="#0072bd" stroke-width="4.3" stroke-dasharray="37 13.6 9.5 13.6" stroke-linejoin="round"/>
<path d="M225 1612h38 M244 1593v38M318.7 1065.7h38 M337.7 1046.7v38M373.5 802.6h38 M392.5 783.6v38M412.4 653.2h38 M431.4 634.2v38M442.6 563.1h38 M461.6 544.1v38M467.2 508h38 M486.2 489v38M488.1 475h38 M507.1 456v38M506.1 456.8h38 M525.1 437.8v38M522 448.5h38 M541 429.5v38M536.3 447.3h38 M555.3 428.3v38M549.2 451.1h38 M568.2 432.1v38M560.9 458.4h38 M579.9 439.4v38M571.7 468.3h38 M590.7 449.3v38M581.8 479.9h38 M600.8 460.9v38M591.1 492.8h38 M610.1 473.8v38M599.8 506.6h38 M618.8 487.6v38M608 520.9h38 M627 501.9v38M615.7 535.6h38 M634.7 516.6v38M623 550.5h38 M642 531.5v38M630 565.4h38 M649 546.4v38M636.6 580.2h38 M655.6 561.2v38M642.9 595h38 M661.9 576v38M648.9 609.6h38 M667.9 590.6v38M654.6 623.9h38 M673.6 604.9v38M660.1 638h38 M679.1 619v38M665.4 651.9h38 M684.4 632.9v38M670.5 665.5h38 M689.5 646.5v38M675.5 678.7h38 M694.5 659.7v38M680.2 691.7h38 M699.2 672.7v38M684.8 704.4h38 M703.8 685.4v38M689.2 716.8h38 M708.2 697.8v38M693.5 728.9h38 M712.5 709.9v38M697.7 740.7h38 M716.7 721.7v38M701.7 752.3h38 M720.7 733.3v38M705.6 763.5h38 M724.6 744.5v38M709.4 774.5h38 M728.4 755.5v38M713.1 785.2h38 M732.1 766.2v38M716.7 795.6h38 M735.7 776.6v38M720.3 805.8h38 M739.3 786.8v38M723.7 815.7h38 M742.7 796.7v38M727 825.4h38 M746 806.4v38M730.3 834.9h38 M749.3 815.9v38M733.5 844.2h38 M752.5 825.2v38M736.6 853.2h38 M755.6 834.2v38M739.6 862h38 M758.6 843v38M742.6 870.6h38 M761.6 851.6v38M745.5 879h38 M764.5 860v38M748.3 887.2h38 M767.3 868.2v38M751.1 895.2h38 M770.1 876.2v38M753.8 903h38 M772.8 884v38M756.5 910.7h38 M775.5 891.7v38M759.1 918.2h38 M778.1 899.2v38M761.7 925.5h38 M780.7 906.5v38M764.3 932.7h38 M783.3 913.7v38M766.7 939.7h38 M785.7 920.7v38M769.2 946.6h38 M788.2 927.6v38M771.6 953.3h38 M790.6 934.3v38M773.9 959.8h38 M792.9 940.8v38M776.2 966.3h38 M795.2 947.3v38M778.5 972.6h38 M797.5 953.6v38M780.7 978.8h38 M799.7 959.8v38M782.9 984.8h38 M801.9 965.8v38M785.1 990.7h38 M804.1 971.7v38M787.2 996.5h38 M806.2 977.5v38M789.3 1002.2h38 M808.3 983.2v38M791.4 1007.8h38 M810.4 988.8v38M793.4 1013.3h38 M812.4 994.3v38M795.4 1018.7h38 M814.4 999.7v38M797.4 1023.9h38 M816.4 1004.9v38M799.3 1029.1h38 M818.3 1010.1v38M801.3 1034.2h38 M820.3 1015.2v38M803.1 1039.1h38 M822.1 1020.1v38M805 1044h38 M824 1025v38M806.8 1048.8h38 M825.8 1029.8v38M808.7 1053.5h38 M827.7 1034.5v38M810.5 1058.2h38 M829.5 1039.2v38M812.2 1062.7h38 M831.2 1043.7v38M814 1067.2h38 M833 1048.2v38M815.7 1071.6h38 M834.7 1052.6v38M817.4 1075.9h38 M836.4 1056.9v38M819.1 1080.1h38 M838.1 1061.1v38M820.7 1084.3h38 M839.7 1065.3v38M822.4 1088.4h38 M841.4 1069.4v38M824 1092.4h38 M843 1073.4v38M825.6 1096.4h38 M844.6 1077.4v38M827.2 1100.3h38 M846.2 1081.3v38M828.7 1104.1h38 M847.7 1085.1v38M830.3 1107.9h38 M849.3 1088.9v38M831.8 1111.6h38 M850.8 1092.6v38M833.3 1115.3h38 M852.3 1096.3v38M834.8 1118.9h38 M853.8 1099.9v38M836.3 1122.4h38 M855.3 1103.4v38M837.7 1125.9h38 M856.7 1106.9v38M839.2 1129.3h38 M858.2 1110.3v38M840.6 1132.7h38 M859.6 1113.7v38M842 1136.1h38 M861 1117.1v38M843.4 1139.3h38 M862.4 1120.3v38M844.8 1142.6h38 M863.8 1123.6v38M846.2 1145.8h38 M865.2 1126.8v38M847.6 1148.9h38 M866.6 1129.9v38M848.9 1152h38 M867.9 1133v38M850.2 1155h38 M869.2 1136v38M851.5 1158.1h38 M870.5 1139.1v38M852.9 1161h38 M871.9 1142v38M854.1 1163.9h38 M873.1 1144.9v38M855.4 1166.8h38 M874.4 1147.8v38M856.7 1169.7h38 M875.7 1150.7v38M858 1172.5h38 M877 1153.5v38M859.2 1175.2h38 M878.2 1156.2v38M860.4 1178h38 M879.4 1159v38M861.7 1180.6h38 M880.7 1161.6v38M862.9 1183.3h38 M881.9 1164.3v38M864.1 1185.9h38 M883.1 1166.9v38M865.3 1188.5h38 M884.3 1169.5v38M866.4 1191.1h38 M885.4 1172.1v38M867.6 1193.6h38 M886.6 1174.6v38M868.8 1196.1h38 M887.8 1177.1v38M869.9 1198.5h38 M888.9 1179.5v38M871.1 1200.9h38 M890.1 1181.9v38M872.2 1203.3h38 M891.2 1184.3v38M873.3 1205.7h38 M892.3 1186.7v38M874.4 1208h38 M893.4 1189v38M875.5 1210.3h38 M894.5 1191.3v38M876.6 1212.6h38 M895.6 1193.6v38M877.7 1214.8h38 M896.7 1195.8v38M878.8 1217.1h38 M897.8 1198.1v38M879.9 1219.3h38 M898.9 1200.3v38M880.9 1221.4h38 M899.9 1202.4v38M882 1223.6h38 M901 1204.6v38M883 1225.7h38 M902 1206.7v38M884.1 1227.8h38 M903.1 1208.8v38M885.1 1229.8h38 M904.1 1210.8v38M886.1 1231.9h38 M905.1 1212.9v38M887.1 1233.9h38 M906.1 1214.9v38M888.1 1235.9h38 M907.1 1216.9v38M889.1 1237.9h38 M908.1 1218.9v38M890.1 1239.8h38 M909.1 1220.8v38M891.1 1241.8h38 M910.1 1222.8v38M892.1 1243.7h38 M911.1 1224.7v38M893 1245.6h38 M912 1226.6v38M894 1247.4h38 M913 1228.4v38M895 1249.3h38 M914 1230.3v38M895.9 1251.1h38 M914.9 1232.1v38M896.8 1252.9h38 M915.8 1233.9v38M897.8 1254.7h38 M916.8 1235.7v38M898.7 1256.4h38 M917.7 1237.4v38M899.6 1258.2h38 M918.6 1239.2v38M900.5 1259.9h38 M919.5 1240.9v38M901.5 1261.6h38 M920.5 1242.6v38M902.4 1263.3h38 M921.4 1244.3v38M903.3 1265h38 M922.3 1246v38M904.2 1266.7h38 M923.2 1247.7v38M905 1268.3h38 M924 1249.3v38M905.9 1269.9h38 M924.9 1250.9v38M906.8 1271.5h38 M925.8 1252.5v38M907.7 1273.1h38 M926.7 1254.1v38M908.5 1274.7h38 M927.5 1255.7v38M909.4 1276.3h38 M928.4 1257.3v38M910.2 1277.8h38 M929.2 1258.8v38M911.1 1279.3h38 M930.1 1260.3v38M911.9 1280.8h38 M930.9 1261.8v38M912.8 1282.3h38 M931.8 1263.3v38M913.6 1283.8h38 M932.6 1264.8v38M914.4 1285.3h38 M933.4 1266.3v38M915.2 1286.7h38 M934.2 1267.7v38M916.1 1288.2h38 M935.1 1269.2v38M916.9 1289.6h38 M935.9 1270.6v38M917.7 1291h38 M936.7 1272v38M918.5 1292.4h38 M937.5 1273.4v38M919.3 1293.8h38 M938.3 1274.8v38M920.1 1295.2h38 M939.1 1276.2v38M920.9 1296.6h38 M939.9 1277.6v38M921.6 1297.9h38 M940.6 1278.9v38M922.4 1299.2h38 M941.4 1280.2v38M923.2 1300.6h38 M942.2 1281.6v38M924 1301.9h38 M943 1282.9v38M924.7 1303.2h38 M943.7 1284.2v38M925.5 1304.5h38 M944.5 1285.5v38M926.3 1305.7h38 M945.3 1286.7v38M927 1307h38 M946 1288v38M927.8 1308.3h38 M946.8 1289.3v38M928.5 1309.5h38 M947.5 1290.5v38M929.2 1310.7h38 M948.2 1291.7v38M930 1312h38 M949 1293v38M930.7 1313.2h38 M949.7 1294.2v38M931.4 1314.4h38 M950.4 1295.4v38M932.2 1315.6h38 M951.2 1296.6v38M932.9 1316.7h38 M951.9 1297.7v38M933.6 1317.9h38 M952.6 1298.9v38M934.3 1319.1h38 M953.3 1300.1v38M935 1320.2h38 M954 1301.2v38M935.7 1321.3h38 M954.7 1302.3v38M936.4 1322.5h38 M955.4 1303.5v38M937.1 1323.6h38 M956.1 1304.6v38M937.8 1324.7h38 M956.8 1305.7v38M938.5 1325.8h38 M957.5 1306.8v38M939.2 1326.9h38 M958.2 1307.9v38M939.9 1328h38 M958.9 1309v38M940.6 1329.1h38 M959.6 1310.1v38M941.3 1330.1h38 M960.3 1311.1v38M941.9 1331.2h38 M960.9 1312.2v38M942.6 1332.2h38 M961.6 1313.2v38M943.3 1333.3h38 M962.3 1314.3v38M943.9 1334.3h38 M962.9 1315.3v38M944.6 1335.3h38 M963.6 1316.3v38M945.2 1336.3h38 M964.2 1317.3v38M945.9 1337.3h38 M964.9 1318.3v38M946.6 1338.3h38 M965.6 1319.3v38M947.2 1339.3h38 M966.2 1320.3v38M947.8 1340.3h38 M966.8 1321.3v38M948.5 1341.3h38 M967.5 1322.3v38M949.1 1342.3h38 M968.1 1323.3v38M949.8 1343.2h38 M968.8 1324.2v38M950.4 1344.2h38 M969.4 1325.2v38M951 1345.1h38 M970 1326.1v38M951.7 1346.1h38 M970.7 1327.1v38M952.3 1347h38 M971.3 1328v38M952.9 1347.9h38 M971.9 1328.9v38M953.5 1348.8h38 M972.5 1329.8v38M954.1 1349.8h38 M973.1 1330.8v38M954.8 1350.7h38 M973.8 1331.7v38M955.4 1351.6h38 M974.4 1332.6v38M956 1352.4h38 M975 1333.4v38M956.6 1353.3h38 M975.6 1334.3v38M957.2 1354.2h38 M976.2 1335.2v38M957.8 1355.1h38 M976.8 1336.1v38M958.4 1355.9h38 M977.4 1336.9v38M959 1356.8h38 M978 1337.8v38M959.6 1357.7h38 M978.6 1338.7v38M960.1 1358.5h38 M979.1 1339.5v38M960.7 1359.3h38 M979.7 1340.3v38M961.3 1360.2h38 M980.3 1341.2v38M961.9 1361h38 M980.9 1342v38M962.5 1361.8h38 M981.5 1342.8v38M963.1 1362.6h38 M982.1 1343.6v38M963.6 1363.5h38 M982.6 1344.5v38M964.2 1364.3h38 M983.2 1345.3v38M964.8 1365.1h38 M983.8 1346.1v38M965.3 1365.9h38 M984.3 1346.9v38M965.9 1366.6h38 M984.9 1347.6v38M966.5 1367.4h38 M985.5 1348.4v38M967 1368.2h38 M986 1349.2v38M967.6 1369h38 M986.6 1350v38M968.1 1369.7h38 M987.1 1350.7v38M968.7 1370.5h38 M987.7 1351.5v38M969.2 1371.3h38 M988.2 1352.3v38M969.8 1372h38 M988.8 1353v38M970.3 1372.8h38 M989.3 1353.8v38M970.9 1373.5h38 M989.9 1354.5v38M971.4 1374.2h38 M990.4 1355.2v38M972 1375h38 M991 1356v38M972.5 1375.7h38 M991.5 1356.7v38M973 1376.4h38 M992 1357.4v38M973.6 1377.1h38 M992.6 1358.1v38M974.1 1377.9h38 M993.1 1358.9v38M974.6 1378.6h38 M993.6 1359.6v38M975.2 1379.3h38 M994.2 1360.3v38M975.7 1380h38 M994.7 1361v38M976.2 1380.7h38 M995.2 1361.7v38M976.7 1381.3h38 M995.7 1362.3v38M977.2 1382h38 M996.2 1363v38M977.8 1382.7h38 M996.8 1363.7v38M978.3 1383.4h38 M997.3 1364.4v38M978.8 1384.1h38 M997.8 1365.1v38M979.3 1384.7h38 M998.3 1365.7v38M979.8 1385.4h38 M998.8 1366.4v38M980.3 1386.1h38 M999.3 1367.1v38M980.8 1386.7h38 M999.8 1367.7v38M981.3 1387.4h38 M1000.3 1368.4v38M981.8 1388h38 M1000.8 1369v38M982.3 1388.6h38 M1001.3 1369.6v38M982.8 1389.3h38 M1001.8 1370.3v38M983.3 1389.9h38 M1002.3 1370.9v38M983.8 1390.6h38 M1002.8 1371.6v38M984.3 1391.2h38 M1003.3 1372.2v38M984.8 1391.8h38 M1003.8 1372.8v38M985.3 1392.4h38 M1004.3 1373.4v38M985.8 1393h38 M1004.8 1374v38M986.3 1393.7h38 M1005.3 1374.7v38M986.7 1394.3h38 M1005.7 1375.3v38M987.2 1394.9h38 M1006.2 1375.9v38M987.7 1395.5h38 M1006.7 1376.5v38M988.2 1396.1h38 M1007.2 1377.1v38M988.7 1396.7h38 M1007.7 1377.7v38M989.1 1397.3h38 M1008.1 1378.3v38M989.6 1397.8h38 M1008.6 1378.8v38M990.1 1398.4h38 M1009.1 1379.4v38M990.5 1399h38 M1009.5 1380v38M991 1399.6h38 M1010 1380.6v38M991.5 1400.2h38 M1010.5 1381.2v38M991.9 1400.7h38 M1010.9 1381.7v38M992.4 1401.3h38 M1011.4 1382.3v38M992.9 1401.9h38 M1011.9 1382.9v38M993.3 1402.4h38 M1012.3 1383.4v38M993.8 1403h38 M1012.8 1384v38M994.3 1403.5h38 M1013.3 1384.5v38M994.7 1404.1h38 M1013.7 1385.1v38M995.2 1404.6h38 M1014.2 1385.6v38M995.6 1405.2h38 M1014.6 1386.2v38M996.1 1405.7h38 M1015.1 1386.7v38M996.5 1406.2h38 M1015.5 1387.2v38M997 1406.8h38 M1016 1387.8v38M997.4 1407.3h38 M1016.4 1388.3v38M997.9 1407.8h38 M1016.9 1388.8v38M998.3 1408.4h38 M1017.3 1389.4v38M998.7 1408.9h38 M1017.7 1389.9v38M999.2 1409.4h38 M1018.2 1390.4v38M999.6 1409.9h38 M1018.6 1390.9v38M1000.1 1410.4h38 M1019.1 1391.4v38M1000.5 1411h38 M1019.5 1392v38M1000.9 1411.5h38 M1019.9 1392.5v38M1001.4 1412h38 M1020.4 1393v38M1001.8 1412.5h38 M1020.8 1393.5v38M1002.2 1413h38 M1021.2 1394v38M1002.7 1413.5h38 M1021.7 1394.5v38M1003.1 1414h38 M1022.1 1395v38M1003.5 1414.5h38 M1022.5 1395.5v38M1003.9 1415h38 M1022.9 1396v38M1004.4 1415.4h38 M1023.4 1396.4v38M1004.8 1415.9h38 M1023.8 1396.9v38M1005.2 1416.4h38 M1024.2 1397.4v38M1005.6 1416.9h38 M1024.6 1397.9v38M1006.1 1417.4h38 M1025.1 1398.4v38M1006.5 1417.8h38 M1025.5 1398.8v38M1006.9 1418.3h38 M1025.9 1399.3v38M1007.3 1418.8h38 M1026.3 1399.8v38M1007.7 1419.3h38 M1026.7 1400.3v38M1008.1 1419.7h38 M1027.1 1400.7v38M1008.5 1420.2h38 M1027.5 1401.2v38M1009 1420.6h38 M1028 1401.6v38M1009.4 1421.1h38 M1028.4 1402.1v38M1009.8 1421.6h38 M1028.8 1402.6v38M1010.2 1422h38 M1029.2 1403v38M1010.6 1422.5h38 M1029.6 1403.5v38M1011 1422.9h38 M1030 1403.9v38M1011.4 1423.4h38 M1030.4 1404.4v38M1011.8 1423.8h38 M1030.8 1404.8v38M1012.2 1424.2h38 M1031.2 1405.2v38M1012.6 1424.7h38 M1031.6 1405.7v38M1013 1425.1h38 M1032 1406.1v38M1013.4 1425.6h38 M1032.4 1406.6v38M1013.8 1426h38 M1032.8 1407v38M1014.2 1426.4h38 M1033.2 1407.4v38M1014.6 1426.8h38 M1033.6 1407.8v38M1015 1427.3h38 M1034 1408.3v38M1015.4 1427.7h38 M1034.4 1408.7v38M1015.7 1428.1h38 M1034.7 1409.1v38M1016.1 1428.5h38 M1035.1 1409.5v38M1016.5 1429h38 M1035.5 1410v38M1016.9 1429.4h38 M1035.9 1410.4v38M1017.3 1429.8h38 M1036.3 1410.8v38M1017.7 1430.2h38 M1036.7 1411.2v38M1018.1 1430.6h38 M1037.1 1411.6v38M1018.4 1431h38 M1037.4 1412v38M1018.8 1431.4h38 M1037.8 1412.4v38M1019.2 1431.8h38 M1038.2 1412.8v38M1019.6 1432.2h38 M1038.6 1413.2v38M1020 1432.6h38 M1039 1413.6v38M1020.3 1433h38 M1039.3 1414v38M1020.7 1433.4h38 M1039.7 1414.4v38M1021.1 1433.8h38 M1040.1 1414.8v38M1021.5 1434.2h38 M1040.5 1415.2v38M1021.8 1434.6h38 M1040.8 1415.6v38M1022.2 1435h38 M1041.2 1416v38M1022.6 1435.4h38 M1041.6 1416.4v38M1022.9 1435.8h38 M1041.9 1416.8v38M1023.3 1436.1h38 M1042.3 1417.1v38M1023.7 1436.5h38 M1042.7 1417.5v38M1024.1 1436.9h38 M1043.1 1417.9v38M1024.4 1437.3h38 M1043.4 1418.3v38M1024.8 1437.7h38 M1043.8 1418.7v38M1025.1 1438h38 M1044.1 1419v38M1025.5 1438.4h38 M1044.5 1419.4v38M1025.9 1438.8h38 M1044.9 1419.8v38M1026.2 1439.1h38 M1045.2 1420.1v38M1026.6 1439.5h38 M1045.6 1420.5v38M1027 1439.9h38 M1046 1420.9v38M1027.3 1440.2h38 M1046.3 1421.2v38M1027.7 1440.6h38 M1046.7 1421.6v38M1028 1441h38 M1047 1422v38M1028.4 1441.3h38 M1047.4 1422.3v38M1028.7 1441.7h38 M1047.7 1422.7v38M1029.1 1442h38 M1048.1 1423v38M1029.4 1442.4h38 M1048.4 1423.4v38M1029.8 1442.7h38 M1048.8 1423.7v38M1030.1 1443.1h38 M1049.1 1424.1v38M1030.5 1443.4h38 M1049.5 1424.4v38M1030.8 1443.8h38 M1049.8 1424.8v38M1031.2 1444.1h38 M1050.2 1425.1v38M1031.5 1444.5h38 M1050.5 1425.5v38M1031.9 1444.8h38 M1050.9 1425.8v38M1032.2 1445.2h38 M1051.2 1426.2v38M1032.6 1445.5h38 M1051.6 1426.5v38M1032.9 1445.9h38 M1051.9 1426.9v38M1033.3 1446.2h38 M1052.3 1427.2v38M1033.6 1446.5h38 M1052.6 1427.5v38M1033.9 1446.9h38 M1052.9 1427.9v38M1034.3 1447.2h38 M1053.3 1428.2v38M1034.6 1447.5h38 M1053.6 1428.5v38M1035 1447.9h38 M1054 1428.9v38" stroke="#0072bd" stroke-width="5.8" fill="none"/>
<polygon points="1035,1445 1073,1445 1074.6,1446.6 1076.3,1448.2 1077.9,1449.7 1079.6,1451.3 1081.2,1452.8 1082.7,1454.2 1084.3,1455.7 1085.8,1457.1 1087.4,1458.5 1088.9,1459.8 1090.4,1461.2 1092.1,1462.7 1093.9,1464.3 1095.6,1465.7 1097.3,1467.2 1099,1468.6 1100.7,1470 1102.3,1471.4 1103.9,1472.7 1105.5,1474.1 1107.1,1475.3 1108.7,1476.6 1110.5,1478 1112.3,1479.4 1114,1480.8 1115.8,1482.2 1117.5,1483.5 1119.2,1484.8 1120.8,1486 1122.5,1487.2 1124.1,1488.4 1126,1489.8 1127.8,1491.1 1129.6,1492.4 1131.3,1493.6 1133.1,1494.8 1134.8,1496 1136.5,1497.2 1138.2,1498.4 1139.8,1499.5 1141.7,1500.7 1143.5,1501.9 1145.3,1503.1 1147.1,1504.2 1148.8,1505.3 1150.5,1506.4 1152.2,1507.5 1154.1,1508.7 1155.9,1509.8 1157.8,1510.9 1159.5,1512 1161.3,1513 1163.1,1514.1 1165,1515.2 1166.8,1516.2 1168.7,1517.3 1170.5,1518.3 1172.3,1519.3 1174.1,1520.3 1176,1521.3 1177.8,1522.4 1179.7,1523.4 1181.5,1524.3 1183.3,1525.3 1185.1,1526.2 1187,1527.2 1188.9,1528.1 1190.7,1529 1192.6,1529.9 1194.4,1530.8 1196.3,1531.8 1198.2,1532.7 1200,1533.5 1201.9,1534.4 1203.8,1535.3 1205.7,1536.2 1207.6,1537 1209.5,1537.9 1211.3,1538.7 1213.2,1539.5 1215.1,1540.4 1217,1541.2 1218.9,1541.9 1220.8,1542.8 1222.7,1543.5 1224.6,1544.3 1226.4,1545.1 1228.4,1545.8 1230.3,1546.6 1232.2,1547.3 1234.2,1548.1 1236.1,1548.8 1238,1549.6 1239.9,1550.3 1241.8,1551 1243.8,1551.7 1245.6,1552.4 1247.6,1553.1 1249.5,1553.7 1251.5,1554.4 1253.4,1555.1 1255.4,1555.7 1257.3,1556.4 1259.3,1557 1261.2,1557.7 1263.1,1558.3 1265.1,1558.9 1267,1559.6 1269,1560.2 1270.9,1560.8 1272.9,1561.4 1274.9,1562 1276.8,1562.5 1278.7,1563.1 1280.7,1563.7 1282.7,1564.2 1284.7,1564.8 1286.6,1565.4 1288.6,1565.9 1290.5,1566.4 1292.5,1567 1294.5,1567.5 1296.4,1568 1298.4,1568.5 1300.4,1569 1302.4,1569.5 1304.3,1570 1306.3,1570.5 1308.3,1571 1310.3,1571.5 1312.3,1572 1314.3,1572.4 1316.2,1572.9 1318.2,1573.4 1320.2,1573.8 1322.2,1574.3 1324.2,1574.7 1326.2,1575.1 1328.1,1575.6 1330.1,1576 1332.1,1576.4 1334.1,1576.8 1336.1,1577.2 1338,1577.6 1340,1578 1342,1578.4 1344,1578.8 1346,1579.2 1348,1579.6 1349.9,1580 1351.9,1580.3 1353.9,1580.7 1355.9,1581.1 1357.9,1581.4 1359.9,1581.8 1361.9,1582.1 1363.9,1582.5 1365.9,1582.8 1367.9,1583.1 1369.9,1583.5 1371.9,1583.8 1373.8,1584.1 1375.8,1584.4 1377.8,1584.8 1379.8,1585.1 1381.8,1585.4 1383.8,1585.7 1385.8,1586 1387.8,1586.3 1389.8,1586.6 1391.8,1586.9 1393.8,1587.2 1395.8,1587.4 1397.8,1587.7 1399.8,1588 1401.8,1588.3 1403.8,1588.5 1405.8,1588.8 1407.8,1589.1 1409.8,1589.3 1411.8,1589.6 1413.8,1589.8 1415.8,1590.1 1417.8,1590.3 1419.8,1590.6 1421.8,1590.8 1423.8,1591 1425.8,1591.3 1427.8,1591.5 1429.8,1591.7 1431.8,1592 1433.8,1592.2 1435.8,1592.4 1437.8,1592.6 1439.8,1592.8 1441.8,1593 1443.8,1593.3 1445.8,1593.5 1447.8,1593.7 1449.8,1593.9 1451.8,1594.1 1453.8,1594.3 1455.8,1594.4 1457.8,1594.6 1459.8,1594.8 1461.8,1595 1463.8,1595.2 1465.8,1595.4 1467.8,1595.6 1469.8,1595.7 1471.8,1595.9 1473.8,1596.1 1475.8,1596.2 1477.8,1596.4 1479.8,1596.6 1481.8,1596.7 1483.8,1596.9 1485.8,1597.1 1487.8,1597.2 1489.8,1597.4 1491.8,1597.5 1493.8,1597.7 1495.8,1597.8 1497.8,1598 1499.8,1598.1 1501.8,1598.3 1503.8,1598.4 1505.8,1598.5 1507.8,1598.7 1509.8,1598.8 1511.8,1599 1513.8,1599.1 1515.8,1599.2 1517.8,1599.4 1519.8,1599.5 1521.8,1599.6 1523.8,1599.7 1525.8,1599.9 1527.8,1600 1529.8,1600.1 1531.8,1600.2 1533.8,1600.3 1535.8,1600.4 1537.8,1600.6 1539.8,1600.7 1541.8,1600.8 1543.8,1600.9 1545.8,1601 1547.8,1601.1 1549.8,1601.2 1551.8,1601.3 1553.8,1601.4 1555.8,1601.5 1557.8,1601.6 1559.8,1601.7 1561.8,1601.8 1563.8,1601.9 1565.8,1602 1567.8,1602.1 1569.8,1602.2 1571.8,1602.3 1573.8,1602.4 1575.8,1602.5 1577.8,1602.5 1579.8,1602.6 1581.8,1602.7 1583.8,1602.8 1585.8,1602.9 1587.8,1603 1589.8,1603 1591.8,1603.1 1593.8,1603.2 1595.8,1603.3 1597.9,1603.4 1599.9,1603.4 1601.9,1603.5 1603.9,1603.6 1605.9,1603.7 1607.9,1603.7 1609.9,1603.8 1611.9,1603.9 1613.9,1603.9 1615.9,1604 1617.9,1604.1 1619.9,1604.1 1621.9,1604.2 1623.9,1604.3 1625.9,1604.3 1627.9,1604.4 1629.9,1604.5 1631.9,1604.5 1633.9,1604.6 1635.9,1604.6 1637.9,1604.7 1639.9,1604.8 1641.9,1604.8 1643.9,1604.9 1645.9,1604.9 1647.9,1605 1649.9,1605 1651.9,1605.1 1653.9,1605.1 1655.9,1605.2 1657.9,1605.3 1659.9,1605.3 1661.9,1605.4 1663.9,1605.4 1665.9,1605.5 1667.9,1605.5 1669.9,1605.5 1671.9,1605.6 1673.9,1605.6 1675.9,1605.7 1677.9,1605.7 1679.9,1605.8 1681.9,1605.8 1683.9,1605.9 1685.9,1605.9 1687.9,1606 1689.9,1606 1691.9,1606 1693.9,1606.1 1695.5,1606.1 1695.5,1611.9 1657.5,1611.9 1655.9,1611.9 1653.9,1611.8 1651.9,1611.8 1649.9,1611.8 1647.9,1611.7 1645.9,1611.7 1643.9,1611.6 1641.9,1611.6 1639.9,1611.5 1637.9,1611.5 1635.9,1611.4 1633.9,1611.4 1631.9,1611.3 1629.9,1611.3 1627.9,1611.3 1625.9,1611.2 1623.9,1611.2 1621.9,1611.1 1619.9,1611.1 1617.9,1611 1615.9,1610.9 1613.9,1610.9 1611.9,1610.8 1609.9,1610.8 1607.9,1610.7 1605.9,1610.7 1603.9,1610.6 1601.9,1610.6 1599.9,1610.5 1597.9,1610.4 1595.9,1610.4 1593.9,1610.3 1591.9,1610.3 1589.9,1610.2 1587.9,1610.1 1585.9,1610.1 1583.9,1610 1581.9,1609.9 1579.9,1609.9 1577.9,1609.8 1575.9,1609.7 1573.9,1609.7 1571.9,1609.6 1569.9,1609.5 1567.9,1609.5 1565.9,1609.4 1563.9,1609.3 1561.9,1609.2 1559.9,1609.2 1557.8,1609.1 1555.8,1609 1553.8,1608.9 1551.8,1608.8 1549.8,1608.8 1547.8,1608.7 1545.8,1608.6 1543.8,1608.5 1541.8,1608.4 1539.8,1608.3 1537.8,1608.3 1535.8,1608.2 1533.8,1608.1 1531.8,1608 1529.8,1607.9 1527.8,1607.8 1525.8,1607.7 1523.8,1607.6 1521.8,1607.5 1519.8,1607.4 1517.8,1607.3 1515.8,1607.2 1513.8,1607.1 1511.8,1607 1509.8,1606.9 1507.8,1606.8 1505.8,1606.7 1503.8,1606.6 1501.8,1606.5 1499.8,1606.4 1497.8,1606.2 1495.8,1606.1 1493.8,1606 1491.8,1605.9 1489.8,1605.8 1487.8,1605.7 1485.8,1605.5 1483.8,1605.4 1481.8,1605.3 1479.8,1605.2 1477.8,1605 1475.8,1604.9 1473.8,1604.8 1471.8,1604.6 1469.8,1604.5 1467.8,1604.3 1465.8,1604.2 1463.8,1604.1 1461.8,1603.9 1459.8,1603.8 1457.8,1603.6 1455.8,1603.5 1453.8,1603.3 1451.8,1603.2 1449.8,1603 1447.8,1602.9 1445.8,1602.7 1443.8,1602.5 1441.8,1602.4 1439.8,1602.2 1437.8,1602 1435.8,1601.9 1433.8,1601.7 1431.8,1601.5 1429.8,1601.4 1427.8,1601.2 1425.8,1601 1423.8,1600.8 1421.8,1600.6 1419.8,1600.4 1417.8,1600.2 1415.8,1600.1 1413.8,1599.9 1411.8,1599.7 1409.8,1599.5 1407.8,1599.3 1405.8,1599.1 1403.8,1598.8 1401.8,1598.6 1399.8,1598.4 1397.8,1598.2 1395.8,1598 1393.8,1597.8 1391.8,1597.5 1389.8,1597.3 1387.8,1597.1 1385.8,1596.8 1383.8,1596.6 1381.8,1596.4 1379.8,1596.1 1377.8,1595.9 1375.8,1595.6 1373.8,1595.4 1371.8,1595.1 1369.8,1594.9 1367.8,1594.6 1365.8,1594.3 1363.8,1594.1 1361.8,1593.8 1359.8,1593.5 1357.8,1593.2 1355.8,1593 1353.8,1592.7 1351.8,1592.4 1349.8,1592.1 1347.8,1591.8 1345.8,1591.5 1343.8,1591.2 1341.8,1590.9 1339.8,1590.6 1337.8,1590.2 1335.8,1589.9 1333.9,1589.6 1331.9,1589.3 1329.9,1588.9 1327.9,1588.6 1325.9,1588.3 1323.9,1587.9 1321.9,1587.6 1319.9,1587.2 1317.9,1586.9 1315.9,1586.5 1313.9,1586.1 1311.9,1585.8 1310,1585.4 1308,1585 1306,1584.6 1304,1584.2 1302,1583.8 1300,1583.4 1298.1,1583 1296.1,1582.6 1294.1,1582.2 1292.1,1581.8 1290.1,1581.4 1288.2,1580.9 1286.2,1580.5 1284.2,1580.1 1282.2,1579.6 1280.2,1579.2 1278.2,1578.7 1276.3,1578.2 1274.3,1577.8 1272.3,1577.3 1270.3,1576.8 1268.3,1576.3 1266.3,1575.8 1264.4,1575.3 1262.4,1574.8 1260.4,1574.3 1258.4,1573.8 1256.5,1573.3 1254.5,1572.8 1252.5,1572.2 1250.6,1571.7 1248.6,1571.2 1246.7,1570.6 1244.7,1570 1242.7,1569.5 1240.7,1568.9 1238.8,1568.3 1236.9,1567.8 1234.9,1567.2 1232.9,1566.6 1231,1566 1229,1565.4 1227.1,1564.7 1225.1,1564.1 1223.2,1563.5 1221.3,1562.8 1219.3,1562.2 1217.4,1561.5 1215.4,1560.9 1213.5,1560.2 1211.5,1559.5 1209.6,1558.9 1207.6,1558.2 1205.8,1557.5 1203.8,1556.8 1201.9,1556.1 1200,1555.4 1198.1,1554.6 1196.2,1553.9 1194.2,1553.1 1192.3,1552.4 1190.4,1551.6 1188.4,1550.9 1186.6,1550.1 1184.7,1549.3 1182.8,1548.6 1180.9,1547.7 1179,1547 1177.1,1546.2 1175.2,1545.3 1173.3,1544.5 1171.5,1543.7 1169.6,1542.8 1167.7,1542 1165.8,1541.1 1163.9,1540.2 1162,1539.3 1160.2,1538.5 1158.3,1537.6 1156.4,1536.6 1154.6,1535.7 1152.7,1534.8 1150.9,1533.9 1149,1533 1147.1,1532 1145.3,1531.1 1143.5,1530.1 1141.7,1529.2 1139.8,1528.2 1138,1527.1 1136.1,1526.1 1134.3,1525.1 1132.5,1524.1 1130.7,1523.1 1128.8,1522 1127,1521 1125.1,1519.9 1123.3,1518.8 1121.5,1517.8 1119.8,1516.7 1117.9,1515.6 1116.1,1514.5 1114.2,1513.3 1112.5,1512.2 1110.8,1511.1 1109.1,1510 1107.3,1508.9 1105.5,1507.7 1103.7,1506.5 1101.8,1505.3 1100.2,1504.2 1098.5,1503 1096.8,1501.8 1095.1,1500.6 1093.3,1499.4 1091.6,1498.2 1089.8,1496.9 1088,1495.6 1086.1,1494.2 1084.5,1493 1082.8,1491.8 1081.2,1490.6 1079.5,1489.3 1077.8,1488 1076,1486.6 1074.3,1485.2 1072.5,1483.8 1070.7,1482.4 1069.1,1481.1 1067.5,1479.9 1065.9,1478.5 1064.3,1477.2 1062.7,1475.8 1061,1474.4 1059.3,1473 1057.6,1471.5 1055.9,1470.1 1054.1,1468.5 1052.4,1467 1050.9,1465.6 1049.4,1464.3 1047.8,1462.9 1046.3,1461.5 1044.7,1460 1043.2,1458.6 1041.6,1457.1 1039.9,1455.5 1038.3,1454 1036.6,1452.4 1035,1450.8" fill="#0072bd"/>
<polygon points="1051.1,1428.9 1056.9,1428.9 1058.5,1430.5 1060.2,1432.1 1061.8,1433.6 1063.5,1435.2 1065.1,1436.7 1066.6,1438.1 1068.2,1439.6 1069.7,1441 1071.3,1442.4 1072.8,1443.7 1074.3,1445.1 1076,1446.6 1077.8,1448.2 1079.5,1449.6 1081.2,1451.1 1082.9,1452.5 1084.6,1453.9 1086.2,1455.3 1087.8,1456.6 1089.4,1458 1091,1459.2 1092.6,1460.5 1094.4,1461.9 1096.2,1463.3 1097.9,1464.7 1099.7,1466.1 1101.4,1467.4 1103.1,1468.7 1104.7,1469.9 1106.4,1471.1 1108,1472.3 1109.9,1473.7 1111.7,1475 1113.5,1476.3 1115.2,1477.5 1117,1478.7 1118.7,1479.9 1120.4,1481.1 1122.1,1482.3 1123.7,1483.4 1125.6,1484.6 1127.4,1485.8 1129.2,1487 1131,1488.1 1132.7,1489.2 1134.4,1490.3 1136.1,1491.4 1138,1492.6 1139.8,1493.7 1141.7,1494.8 1143.4,1495.9 1145.2,1496.9 1147,1498 1148.9,1499.1 1150.7,1500.1 1152.6,1501.2 1154.4,1502.2 1156.2,1503.2 1158,1504.2 1159.9,1505.2 1161.7,1506.3 1163.6,1507.3 1165.4,1508.2 1167.2,1509.2 1169,1510.1 1170.9,1511.1 1172.8,1512 1174.6,1512.9 1176.5,1513.8 1178.3,1514.7 1180.2,1515.7 1182.1,1516.6 1183.9,1517.4 1185.8,1518.3 1187.7,1519.2 1189.6,1520.1 1191.5,1520.9 1193.4,1521.8 1195.2,1522.6 1197.1,1523.4 1199,1524.3 1200.9,1525.1 1202.8,1525.8 1204.7,1526.7 1206.6,1527.4 1208.5,1528.2 1210.3,1529 1212.3,1529.7 1214.2,1530.5 1216.1,1531.2 1218.1,1532 1220,1532.7 1221.9,1533.5 1223.8,1534.2 1225.7,1534.9 1227.7,1535.6 1229.5,1536.3 1231.5,1537 1233.4,1537.6 1235.4,1538.3 1237.3,1539 1239.3,1539.6 1241.2,1540.3 1243.2,1540.9 1245.1,1541.6 1247,1542.2 1249,1542.8 1250.9,1543.5 1252.9,1544.1 1254.8,1544.7 1256.8,1545.3 1258.8,1545.9 1260.7,1546.4 1262.6,1547 1264.6,1547.6 1266.6,1548.1 1268.6,1548.7 1270.5,1549.3 1272.5,1549.8 1274.4,1550.3 1276.4,1550.9 1278.4,1551.4 1280.3,1551.9 1282.3,1552.4 1284.3,1552.9 1286.3,1553.4 1288.2,1553.9 1290.2,1554.4 1292.2,1554.9 1294.2,1555.4 1296.2,1555.9 1298.2,1556.3 1300.1,1556.8 1302.1,1557.3 1304.1,1557.7 1306.1,1558.2 1308.1,1558.6 1310.1,1559 1312,1559.5 1314,1559.9 1316,1560.3 1318,1560.7 1320,1561.1 1321.9,1561.5 1323.9,1561.9 1325.9,1562.3 1327.9,1562.7 1329.9,1563.1 1331.9,1563.5 1333.8,1563.9 1335.8,1564.2 1337.8,1564.6 1339.8,1565 1341.8,1565.3 1343.8,1565.7 1345.8,1566 1347.8,1566.4 1349.8,1566.7 1351.8,1567 1353.8,1567.4 1355.8,1567.7 1357.7,1568 1359.7,1568.3 1361.7,1568.7 1363.7,1569 1365.7,1569.3 1367.7,1569.6 1369.7,1569.9 1371.7,1570.2 1373.7,1570.5 1375.7,1570.8 1377.7,1571.1 1379.7,1571.3 1381.7,1571.6 1383.7,1571.9 1385.7,1572.2 1387.7,1572.4 1389.7,1572.7 1391.7,1573 1393.7,1573.2 1395.7,1573.5 1397.7,1573.7 1399.7,1574 1401.7,1574.2 1403.7,1574.5 1405.7,1574.7 1407.7,1574.9 1409.7,1575.2 1411.7,1575.4 1413.7,1575.6 1415.7,1575.9 1417.7,1576.1 1419.7,1576.3 1421.7,1576.5 1423.7,1576.7 1425.7,1576.9 1427.7,1577.2 1429.7,1577.4 1431.7,1577.6 1433.7,1577.8 1435.7,1578 1437.7,1578.2 1439.7,1578.3 1441.7,1578.5 1443.7,1578.7 1445.7,1578.9 1447.7,1579.1 1449.7,1579.3 1451.7,1579.5 1453.7,1579.6 1455.7,1579.8 1457.7,1580 1459.7,1580.1 1461.7,1580.3 1463.7,1580.5 1465.7,1580.6 1467.7,1580.8 1469.7,1581 1471.7,1581.1 1473.7,1581.3 1475.7,1581.4 1477.7,1581.6 1479.7,1581.7 1481.7,1581.9 1483.7,1582 1485.7,1582.2 1487.7,1582.3 1489.7,1582.4 1491.7,1582.6 1493.7,1582.7 1495.7,1582.9 1497.7,1583 1499.7,1583.1 1501.7,1583.3 1503.7,1583.4 1505.7,1583.5 1507.7,1583.6 1509.7,1583.8 1511.7,1583.9 1513.7,1584 1515.7,1584.1 1517.7,1584.2 1519.7,1584.3 1521.7,1584.5 1523.7,1584.6 1525.7,1584.7 1527.7,1584.8 1529.7,1584.9 1531.7,1585 1533.7,1585.1 1535.7,1585.2 1537.7,1585.3 1539.7,1585.4 1541.7,1585.5 1543.7,1585.6 1545.7,1585.7 1547.7,1585.8 1549.7,1585.9 1551.7,1586 1553.7,1586.1 1555.7,1586.2 1557.7,1586.3 1559.7,1586.4 1561.7,1586.4 1563.7,1586.5 1565.7,1586.6 1567.7,1586.7 1569.7,1586.8 1571.7,1586.9 1573.7,1586.9 1575.7,1587 1577.7,1587.1 1579.7,1587.2 1581.8,1587.3 1583.8,1587.3 1585.8,1587.4 1587.8,1587.5 1589.8,1587.6 1591.8,1587.6 1593.8,1587.7 1595.8,1587.8 1597.8,1587.8 1599.8,1587.9 1601.8,1588 1603.8,1588 1605.8,1588.1 1607.8,1588.2 1609.8,1588.2 1611.8,1588.3 1613.8,1588.4 1615.8,1588.4 1617.8,1588.5 1619.8,1588.5 1621.8,1588.6 1623.8,1588.7 1625.8,1588.7 1627.8,1588.8 1629.8,1588.8 1631.8,1588.9 1633.8,1588.9 1635.8,1589 1637.8,1589 1639.8,1589.1 1641.8,1589.2 1643.8,1589.2 1645.8,1589.3 1647.8,1589.3 1649.8,1589.4 1651.8,1589.4 1653.8,1589.4 1655.8,1589.5 1657.8,1589.5 1659.8,1589.6 1661.8,1589.6 1663.8,1589.7 1665.8,1589.7 1667.8,1589.8 1669.8,1589.8 1671.8,1589.9 1673.8,1589.9 1675.8,1589.9 1677.8,1590 1679.4,1590 1679.4,1628 1673.6,1628 1672,1628 1670,1627.9 1668,1627.9 1666,1627.9 1664,1627.8 1662,1627.8 1660,1627.7 1658,1627.7 1656,1627.6 1654,1627.6 1652,1627.5 1650,1627.5 1648,1627.4 1646,1627.4 1644,1627.4 1642,1627.3 1640,1627.3 1638,1627.2 1636,1627.2 1634,1627.1 1632,1627 1630,1627 1628,1626.9 1626,1626.9 1624,1626.8 1622,1626.8 1620,1626.7 1618,1626.7 1616,1626.6 1614,1626.5 1612,1626.5 1610,1626.4 1608,1626.4 1606,1626.3 1604,1626.2 1602,1626.2 1600,1626.1 1598,1626 1596,1626 1594,1625.9 1592,1625.8 1590,1625.8 1588,1625.7 1586,1625.6 1584,1625.6 1582,1625.5 1580,1625.4 1578,1625.3 1576,1625.3 1573.9,1625.2 1571.9,1625.1 1569.9,1625 1567.9,1624.9 1565.9,1624.9 1563.9,1624.8 1561.9,1624.7 1559.9,1624.6 1557.9,1624.5 1555.9,1624.4 1553.9,1624.4 1551.9,1624.3 1549.9,1624.2 1547.9,1624.1 1545.9,1624 1543.9,1623.9 1541.9,1623.8 1539.9,1623.7 1537.9,1623.6 1535.9,1623.5 1533.9,1623.4 1531.9,1623.3 1529.9,1623.2 1527.9,1623.1 1525.9,1623 1523.9,1622.9 1521.9,1622.8 1519.9,1622.7 1517.9,1622.6 1515.9,1622.5 1513.9,1622.3 1511.9,1622.2 1509.9,1622.1 1507.9,1622 1505.9,1621.9 1503.9,1621.8 1501.9,1621.6 1499.9,1621.5 1497.9,1621.4 1495.9,1621.3 1493.9,1621.1 1491.9,1621 1489.9,1620.9 1487.9,1620.7 1485.9,1620.6 1483.9,1620.4 1481.9,1620.3 1479.9,1620.2 1477.9,1620 1475.9,1619.9 1473.9,1619.7 1471.9,1619.6 1469.9,1619.4 1467.9,1619.3 1465.9,1619.1 1463.9,1619 1461.9,1618.8 1459.9,1618.6 1457.9,1618.5 1455.9,1618.3 1453.9,1618.1 1451.9,1618 1449.9,1617.8 1447.9,1617.6 1445.9,1617.5 1443.9,1617.3 1441.9,1617.1 1439.9,1616.9 1437.9,1616.7 1435.9,1616.5 1433.9,1616.3 1431.9,1616.2 1429.9,1616 1427.9,1615.8 1425.9,1615.6 1423.9,1615.4 1421.9,1615.2 1419.9,1614.9 1417.9,1614.7 1415.9,1614.5 1413.9,1614.3 1411.9,1614.1 1409.9,1613.9 1407.9,1613.6 1405.9,1613.4 1403.9,1613.2 1401.9,1612.9 1399.9,1612.7 1397.9,1612.5 1395.9,1612.2 1393.9,1612 1391.9,1611.7 1389.9,1611.5 1387.9,1611.2 1385.9,1611 1383.9,1610.7 1381.9,1610.4 1379.9,1610.2 1377.9,1609.9 1375.9,1609.6 1373.9,1609.3 1371.9,1609.1 1369.9,1608.8 1367.9,1608.5 1365.9,1608.2 1363.9,1607.9 1361.9,1607.6 1359.9,1607.3 1357.9,1607 1355.9,1606.7 1353.9,1606.3 1351.9,1606 1350,1605.7 1348,1605.4 1346,1605 1344,1604.7 1342,1604.4 1340,1604 1338,1603.7 1336,1603.3 1334,1603 1332,1602.6 1330,1602.2 1328,1601.9 1326.1,1601.5 1324.1,1601.1 1322.1,1600.7 1320.1,1600.3 1318.1,1599.9 1316.1,1599.5 1314.2,1599.1 1312.2,1598.7 1310.2,1598.3 1308.2,1597.9 1306.2,1597.5 1304.3,1597 1302.3,1596.6 1300.3,1596.2 1298.3,1595.7 1296.3,1595.3 1294.3,1594.8 1292.4,1594.3 1290.4,1593.9 1288.4,1593.4 1286.4,1592.9 1284.4,1592.4 1282.4,1591.9 1280.5,1591.4 1278.5,1590.9 1276.5,1590.4 1274.5,1589.9 1272.6,1589.4 1270.6,1588.9 1268.6,1588.3 1266.7,1587.8 1264.7,1587.3 1262.8,1586.7 1260.8,1586.1 1258.8,1585.6 1256.8,1585 1254.9,1584.4 1253,1583.9 1251,1583.3 1249,1582.7 1247.1,1582.1 1245.1,1581.5 1243.2,1580.8 1241.2,1580.2 1239.3,1579.6 1237.4,1578.9 1235.4,1578.3 1233.5,1577.6 1231.5,1577 1229.6,1576.3 1227.6,1575.6 1225.7,1575 1223.7,1574.3 1221.9,1573.6 1219.9,1572.9 1218,1572.2 1216.1,1571.5 1214.2,1570.7 1212.3,1570 1210.3,1569.2 1208.4,1568.5 1206.5,1567.7 1204.5,1567 1202.7,1566.2 1200.8,1565.4 1198.9,1564.7 1197,1563.8 1195.1,1563.1 1193.2,1562.3 1191.3,1561.4 1189.4,1560.6 1187.6,1559.8 1185.7,1558.9 1183.8,1558.1 1181.9,1557.2 1180,1556.3 1178.1,1555.4 1176.3,1554.6 1174.4,1553.7 1172.5,1552.7 1170.7,1551.8 1168.8,1550.9 1167,1550 1165.1,1549.1 1163.2,1548.1 1161.4,1547.2 1159.6,1546.2 1157.8,1545.3 1155.9,1544.3 1154.1,1543.2 1152.2,1542.2 1150.4,1541.2 1148.6,1540.2 1146.8,1539.2 1144.9,1538.1 1143.1,1537.1 1141.2,1536 1139.4,1534.9 1137.6,1533.9 1135.9,1532.8 1134,1531.7 1132.2,1530.6 1130.3,1529.4 1128.6,1528.3 1126.9,1527.2 1125.2,1526.1 1123.4,1525 1121.6,1523.8 1119.8,1522.6 1117.9,1521.4 1116.3,1520.3 1114.6,1519.1 1112.9,1517.9 1111.2,1516.7 1109.4,1515.5 1107.7,1514.3 1105.9,1513 1104.1,1511.7 1102.2,1510.3 1100.6,1509.1 1098.9,1507.9 1097.3,1506.7 1095.6,1505.4 1093.9,1504.1 1092.1,1502.7 1090.4,1501.3 1088.6,1499.9 1086.8,1498.5 1085.2,1497.2 1083.6,1496 1082,1494.6 1080.4,1493.3 1078.8,1491.9 1077.1,1490.5 1075.4,1489.1 1073.7,1487.6 1072,1486.2 1070.2,1484.6 1068.5,1483.1 1067,1481.7 1065.5,1480.4 1063.9,1479 1062.4,1477.6 1060.8,1476.1 1059.3,1474.7 1057.7,1473.2 1056,1471.6 1054.4,1470.1 1052.7,1468.5 1051.1,1466.9" fill="#0072bd"/>
<polyline points="244,1612 368.9,900.2 442,577.8 493.9,407.4 534.1,313.4 567,262.6 594.7,238.2 618.8,230.2 640,233.1 659,243 676.2,257.6 691.9,275.3 706.3,295 719.7,315.8 732.1,337.4 743.8,359.2 754.7,381 765,402.7 774.7,424.1 784,445.1 792.8,465.6 801.2,485.6 809.2,505.1 816.8,524.1 824.2,542.5 831.3,560.4 838.1,577.8 844.6,594.7 850.9,611 857.1,626.8 863,642.2 868.7,657.1 874.2,671.6 879.6,685.6 884.8,699.2 889.9,712.4 894.9,725.3 899.7,737.7 904.3,749.8 908.9,761.6 913.4,773 917.7,784.1 921.9,794.9 926.1,805.4 930.1,815.7 934.1,825.6 938,835.3 941.8,844.8 945.5,854 949.1,863 952.7,871.7 956.2,880.3 959.6,888.6 963,896.7 966.3,904.7 969.6,912.4 972.7,920 975.9,927.4 979,934.6 982,941.7 985,948.6 987.9,955.4 990.8,962 993.6,968.4 996.4,974.8 999.2,981 1001.9,987 1004.6,993 1007.2,998.8 1009.8,1004.5 1012.3,1010.1 1014.9,1015.6 1017.3,1020.9 1019.8,1026.2 1022.2,1031.4 1024.6,1036.5 1027,1041.4 1029.3,1046.3 1031.6,1051.1 1033.8,1055.8 1036.1,1060.4 1038.3,1065 1040.5,1069.4 1042.6,1073.8 1044.8,1078.1 1046.9,1082.3 1049,1086.5 1051,1090.6 1053.1,1094.6 1055.1,1098.6 1057.1,1102.4 1059,1106.3 1061,1110 1062.9,1113.7 1064.8,1117.4 1066.7,1120.9 1068.6,1124.5 1070.4,1128 1072.3,1131.4 1074.1,1134.7 1075.9,1138.1 1077.6,1141.3 1079.4,1144.5 1081.1,1147.7 1082.9,1150.8 1084.6,1153.9 1086.3,1157 1087.9,1159.9 1089.6,1162.9 1091.2,1165.8 1092.9,1168.7 1094.5,1171.5 1096.1,1174.3 1097.7,1177 1099.3,1179.7 1100.8,1182.4 1102.4,1185.1 1103.9,1187.7 1105.4,1190.2 1106.9,1192.8 1108.4,1195.3 1109.9,1197.7 1111.4,1200.2 1112.8,1202.6 1114.3,1205 1115.7,1207.3 1117.1,1209.6 1118.6,1211.9 1120,1214.2 1121.4,1216.4 1122.7,1218.6 1124.1,1220.8 1125.5,1223 1126.8,1225.1 1128.2,1227.2 1129.5,1229.3 1130.8,1231.3 1132.1,1233.4 1133.4,1235.4 1134.7,1237.4 1136,1239.3 1137.3,1241.3 1138.5,1243.2 1139.8,1245.1 1141,1246.9 1142.3,1248.8 1143.5,1250.6 1144.7,1252.4 1145.9,1254.2 1147.2,1256 1148.3,1257.8 1149.5,1259.5 1150.7,1261.2 1151.9,1262.9 1153.1,1264.6 1154.2,1266.3 1155.4,1267.9 1156.5,1269.6 1157.7,1271.2 1158.8,1272.8 1159.9,1274.3 1161,1275.9 1162.1,1277.5 1163.2,1279 1164.3,1280.5 1165.4,1282 1166.5,1283.5 1167.6,1285 1168.6,1286.4 1169.7,1287.9 1170.8,1289.3 1171.8,1290.7 1172.9,1292.1 1173.9,1293.5 1174.9,1294.9 1176,1296.3 1177,1297.6 1178,1299 1179,1300.3 1180,1301.6 1181,1302.9 1182,1304.2 1183,1305.5 1184,1306.8 1185,1308 1185.9,1309.3 1186.9,1310.5 1187.9,1311.7 1188.8,1312.9 1189.8,1314.2 1190.7,1315.3 1191.6,1316.5 1192.6,1317.7 1194.4,1320 1196.3,1322.3 1198.1,1324.5 1199.9,1326.7 1201.7,1328.9 1203.5,1331 1205.2,1333.1 1206.9,1335.2 1208.7,1337.2 1210.4,1339.2 1212,1341.2 1213.7,1343.1 1215.4,1345 1217,1346.9 1218.6,1348.7 1220.2,1350.5 1221.8,1352.3 1223.4,1354.1 1225,1355.8 1226.5,1357.6 1228.1,1359.2 1229.6,1360.9 1231.1,1362.5 1232.6,1364.2 1234.1,1365.8 1235.6,1367.3 1237,1368.9 1238.5,1370.4 1239.9,1371.9 1241.4,1373.4 1242.8,1374.9 1244.2,1376.3 1245.6,1377.8 1247,1379.2 1248.4,1380.6 1249.7,1382 1251.1,1383.3 1252.4,1384.7 1253.8,1386 1255.1,1387.3 1256.4,1388.6 1257.7,1389.9 1259,1391.1 1260.3,1392.4 1261.6,1393.6 1262.8,1394.8 1264.1,1396 1265.4,1397.2 1266.6,1398.4 1267.8,1399.5 1269.1,1400.7 1270.3,1401.8 1271.5,1402.9 1272.7,1404 1273.9,1405.1 1275.1,1406.2 1276.2,1407.3 1277.4,1408.3 1278.6,1409.4 1279.7,1410.4 1280.9,1411.4 1282,1412.4 1283.2,1413.4 1284.8,1414.9 1286.5,1416.4 1288.2,1417.8 1289.8,1419.2 1291.4,1420.6 1293.1,1422 1294.6,1423.3 1296.2,1424.7 1297.8,1426 1299.4,1427.2 1300.9,1428.5 1302.4,1429.8 1303.9,1431 1305.5,1432.2 1306.9,1433.4 1308.4,1434.6 1309.9,1435.7 1311.3,1436.9 1312.8,1438 1314.2,1439.1 1315.6,1440.2 1317.1,1441.3 1318.5,1442.4 1319.8,1443.4 1321.2,1444.5 1322.6,1445.5 1323.9,1446.5 1325.3,1447.5 1326.6,1448.5 1328,1449.5 1329.3,1450.4 1330.6,1451.4 1331.9,1452.3 1333.2,1453.3 1334.4,1454.2 1335.7,1455.1 1337,1456 1338.2,1456.8 1339.5,1457.7 1340.7,1458.6 1342.3,1459.7 1344,1460.8 1345.6,1461.9 1347.2,1463 1348.7,1464.1 1350.3,1465.1 1351.9,1466.1 1353.4,1467.2 1354.9,1468.2 1356.4,1469.1 1357.9,1470.1 1359.4,1471.1 1360.9,1472 1362.4,1472.9 1363.8,1473.9 1365.2,1474.8 1366.7,1475.6 1368.1,1476.5 1369.5,1477.4 1370.9,1478.2 1372.3,1479.1 1373.6,1479.9 1375,1480.7 1376.4,1481.5 1377.7,1482.3 1379,1483.1 1380.4,1483.9 1381.7,1484.7 1383,1485.4 1384.6,1486.4 1386.2,1487.3 1387.8,1488.2 1389.4,1489.1 1390.9,1490 1392.5,1490.8 1394,1491.7 1395.5,1492.5 1397,1493.3 1398.5,1494.2 1400,1495 1401.5,1495.7 1402.9,1496.5 1404.4,1497.3 1405.8,1498.1 1407.2,1498.8 1408.7,1499.5 1410.1,1500.3 1411.5,1501 1412.8,1501.7 1414.2,1502.4 1415.6,1503.1 1416.9,1503.7 1418.5,1504.5 1420.1,1505.3 1421.7,1506.1 1423.3,1506.9 1424.8,1507.6 1426.3,1508.4 1427.9,1509.1 1429.4,1509.8 1430.9,1510.5 1432.4,1511.2 1433.9,1511.9 1435.3,1512.6 1436.8,1513.3 1438.2,1513.9 1439.6,1514.6 1441.1,1515.2 1442.5,1515.8 1443.9,1516.5 1445.2,1517.1 1446.6,1517.7 1448.2,1518.4 1449.8,1519.1 1451.3,1519.7 1452.9,1520.4 1454.4,1521 1455.9,1521.7 1457.5,1522.3 1459,1522.9 1460.4,1523.6 1461.9,1524.2 1463.4,1524.8 1464.8,1525.4 1466.3,1525.9 1467.7,1526.5 1469.1,1527.1 1470.5,1527.6 1472.1,1528.2 1473.7,1528.9 1475.2,1529.5 1476.8,1530.1 1478.3,1530.7 1479.9,1531.2 1481.4,1531.8 1482.9,1532.4 1484.4,1532.9 1485.8,1533.5 1487.3,1534 1488.7,1534.5 1490.2,1535.1 1491.6,1535.6 1493,1536.1 1494.6,1536.6 1496.2,1537.2 1497.7,1537.7 1499.3,1538.3 1500.8,1538.8 1502.3,1539.3 1503.8,1539.8 1505.3,1540.3 1506.8,1540.8 1508.2,1541.3 1509.7,1541.8 1511.1,1542.3 1512.6,1542.7 1514.1,1543.3 1515.7,1543.8 1517.2,1544.3 1518.8,1544.8 1520.3,1545.2 1521.8,1545.7 1523.3,1546.2 1524.8,1546.6 1526.3,1547.1 1527.7,1547.5 1529.2,1548 1530.6,1548.4 1532.2,1548.9 1533.7,1549.3 1535.3,1549.8 1536.8,1550.2 1538.3,1550.7 1539.8,1551.1 1541.3,1551.6 1542.8,1552 1544.3,1552.4 1545.7,1552.8 1547.3,1553.2 1548.8,1553.7 1550.4,1554.1 1551.9,1554.5 1553.4,1554.9 1555,1555.3 1556.4,1555.7 1557.9,1556.1 1559.4,1556.5 1560.9,1556.9 1562.4,1557.3 1564,1557.7 1565.5,1558.1 1567,1558.5 1568.6,1558.9 1570.1,1559.3 1571.5,1559.6 1573,1560 1574.5,1560.4 1576.1,1560.8 1577.6,1561.1 1579.1,1561.5 1580.7,1561.9 1582.2,1562.2 1583.7,1562.6 1585.2,1562.9 1586.6,1563.3 1588.1,1563.6 1589.7,1564 1591.2,1564.3 1592.7,1564.7 1594.2,1565 1595.7,1565.4 1597.2,1565.7 1598.7,1566 1600.2,1566.3 1601.7,1566.7 1603.3,1567 1604.8,1567.3 1606.3,1567.6 1607.8,1568 1609.3,1568.3 1610.8,1568.6 1612.3,1568.9 1613.9,1569.2 1615.4,1569.5 1616.9,1569.8 1618.4,1570.1 1619.9,1570.4 1621.4,1570.7 1622.9,1571 1624.5,1571.3 1626,1571.6 1627.5,1571.9 1629,1572.2 1630.5,1572.5 1632,1572.8 1633.5,1573.1 1635,1573.4 1636.5,1573.6 1638,1573.9 1639.5,1574.2 1641,1574.5 1642.6,1574.7 1644.1,1575 1645.6,1575.3 1647.1,1575.5 1648.6,1575.8 1650.1,1576.1 1651.6,1576.3 1653.2,1576.6 1654.7,1576.8 1656.2,1577.1 1657.7,1577.4 1659.2,1577.6 1660.8,1577.9 1662.3,1578.1 1663.8,1578.4 1665.3,1578.6 1666.8,1578.8 1668.3,1579.1 1669.9,1579.3 1671.4,1579.6 1672.9,1579.8 1674.4,1580 1675.9,1580.3 1677.4,1580.5 1678.9,1580.7 1680.5,1581 1681.9,1581.2 1683.5,1581.4 1685,1581.6 1686.5,1581.9 1688,1582.1 1689.5,1582.3 1691,1582.5 1692.6,1582.7 1694.1,1582.9 1695.6,1583.1 1697.1,1583.4 1698.6,1583.6 1700.2,1583.8 1701.7,1584 1703.2,1584.2 1704.7,1584.4 1706.2,1584.6 1707.7,1584.8 1709.2,1585 1710.7,1585.2 1712.3,1585.4 1713.8,1585.6 1715.3,1585.8 1716.8,1586 1718.3,1586.2 1719.8,1586.4 1721.3,1586.5 1722.9,1586.7 1724.4,1586.9 1725.9,1587.1 1727.4,1587.3 1728.9,1587.5 1730.4,1587.6 1731.9,1587.8 1733.4,1588 1735,1588.2 1736.5,1588.3 1738,1588.5 1739.5,1588.7 1741,1588.9 1742.5,1589 1744,1589.2 1745.6,1589.4 1747.1,1589.5 1748.6,1589.7 1750.1,1589.9 1751.6,1590 1753.1,1590.2 1754.6,1590.3 1756.2,1590.5 1757.7,1590.7 1759.2,1590.8 1760.7,1591 1762.2,1591.1 1763.7,1591.3 1765.2,1591.4 1766.7,1591.6 1768.2,1591.7 1769.8,1591.9 1771.3,1592 1772.8,1592.2 1774.3,1592.3 1775.8,1592.5 1777.3,1592.6 1778.8,1592.8 1780.3,1592.9 1781.8,1593 1783.4,1593.2 1784.9,1593.3 1786.4,1593.5 1787.9,1593.6 1789.4,1593.7 1790.9,1593.9 1792.4,1594 1793.9,1594.1 1795.5,1594.3 1797,1594.4 1798.5,1594.5 1800,1594.6 1801.5,1594.8 1803,1594.9 1804.5,1595 1806,1595.2 1807.5,1595.3 1809,1595.4 1810.6,1595.5 1812.1,1595.6 1813.6,1595.8 1815.1,1595.9 1816.6,1596 1818.1,1596.1 1819.6,1596.2 1821.1,1596.4 1822.6,1596.5 1824.1,1596.6 1825.7,1596.7 1827.2,1596.8 1828.7,1596.9 1830.2,1597 1831.7,1597.1 1833.2,1597.3 1834.7,1597.4 1836.2,1597.5 1837.7,1597.6 1839.2,1597.7 1840.7,1597.8 1842.2,1597.9 1843.8,1598 1845.3,1598.1 1846.8,1598.2 1848.3,1598.3 1849.8,1598.4 1851.3,1598.5 1852.8,1598.6 1854.3,1598.7 1855.8,1598.8 1857.4,1598.9 1858.9,1599 1860.4,1599.1 1861.9,1599.2 1863.4,1599.3 1864.9,1599.4 1866.4,1599.5 1867.9,1599.6 1869.4,1599.7 1870.9,1599.8 1872.4,1599.8 1873.9,1599.9 1875.4,1600 1876.9,1600.1 1878.5,1600.2 1880,1600.3 1881.5,1600.4 1883,1600.5 1884.5,1600.5 1886,1600.6 1887.5,1600.7 1889,1600.8 1890.5,1600.9 1892,1601 1893.5,1601 1895,1601.1 1896.6,1601.2 1898.1,1601.3 1899.6,1601.4 1901.1,1601.4 1902.6,1601.5 1904.1,1601.6 1905.6,1601.7 1907.1,1601.8 1908.6,1601.8 1910.1,1601.9 1911.6,1602 1913.2,1602.1 1914.7,1602.1 1916.2,1602.2 1917.7,1602.3 1919.2,1602.3 1920.7,1602.4 1922.2,1602.5 1923.7,1602.6 1925.2,1602.6 1926.7,1602.7 1928.2,1602.8 1929.7,1602.8 1931.2,1602.9 1932.7,1603 1934.2,1603 1935.7,1603.1 1937.3,1603.2 1938.8,1603.2 1940.3,1603.3 1941.8,1603.4 1943.3,1603.4 1944.8,1603.5 1946.3,1603.6 1947.8,1603.6 1949.3,1603.7 1950.8,1603.7 1952.3,1603.8 1953.8,1603.9 1955.3,1603.9 1956.8,1604 1958.3,1604.1 1959.8,1604.1 1961.4,1604.2 1962.9,1604.2 1964.4,1604.3 1965.9,1604.3 1967.4,1604.4 1968.9,1604.5 1970.4,1604.5 1971.9,1604.6 1973.4,1604.6 1974.9,1604.7 1976.4,1604.7 1977.9,1604.8 1979.4,1604.8 1980.9,1604.9 1982.4,1604.9 1983.9,1605 1985.4,1605.1 1986.9,1605.1 1988.4,1605.2 1989.9,1605.2 1991.4,1605.3 1992.9,1605.3 1994.4,1605.4 1995.9,1605.4 1997.4,1605.5 1998.9,1605.5 2000.5,1605.6 2002,1605.6 2003.5,1605.6 2005,1605.7 2006.5,1605.7 2008,1605.8 2009.5,1605.8 2011,1605.9 2012.5,1605.9 2014,1606 2015.5,1606 2017,1606.1 2018.5,1606.1 2020,1606.2 2021.5,1606.2 2023,1606.2 2024.5,1606.3 2026,1606.3 2027.5,1606.4 2029,1606.4 2030.5,1606.4 2032,1606.5 2033.5,1606.5 2035,1606.6 2036.5,1606.6 2038.1,1606.7 2039.6,1606.7 2041.1,1606.7 2042.6,1606.8 2044.1,1606.8 2045.6,1606.9 2047.1,1606.9 2048.6,1606.9 2050.1,1607 2051.6,1607 2053.1,1607 2054.6,1607.1 2056.1,1607.1 2057.6,1607.2 2059.1,1607.2 2060.6,1607.2 2062.1,1607.3 2063.6,1607.3 2065.1,1607.3 2066.6,1607.4 2068.1,1607.4 2069.6,1607.4 2071.1,1607.5 2072.6,1607.5 2074.2,1607.5 2075.7,1607.6 2077.2,1607.6 2078.7,1607.6 2080.2,1607.7 2081.7,1607.7 2083.2,1607.7 2084.7,1607.8 2086.2,1607.8 2087.7,1607.8 2089.2,1607.9 2090.7,1607.9 2092.2,1607.9 2093.7,1608 2095.2,1608 2096.7,1608 2098.2,1608 2099.7,1608.1 2101.2,1608.1 2102.7,1608.1 2104.2,1608.2 2105.7,1608.2 2107.2,1608.2 2108.7,1608.2 2110.2,1608.3 2111.7,1608.3 2113.2,1608.3 2114.7,1608.4 2116.2,1608.4 2117.7,1608.4 2119.3,1608.4 2120.8,1608.5 2122.3,1608.5 2123.8,1608.5 2125.3,1608.5 2126.8,1608.6 2128.3,1608.6 2129.8,1608.6 2131.3,1608.6 2132.8,1608.7 2134.3,1608.7 2135.8,1608.7 2137.3,1608.7 2138.8,1608.8 2140.3,1608.8 2141.8,1608.8 2143.3,1608.8 2144.8,1608.9 2146.3,1608.9 2147.8,1608.9 2149.3,1608.9 2150.8,1609 2152.3,1609 2153.8,1609 2154,1609" fill="none" stroke="#d95319" stroke-width="4.3" stroke-linejoin="round"/>
<rect x="1626" y="105.4" width="557" height="483.6" fill="#fff" stroke="#262626" stroke-width="4"/>
<path d="M1626 212H2183" stroke="#262626" stroke-width="4"/>
<text transform="translate(1643.63,184.30) scale(1,1.012)" font-size="67.5" font-weight="bold" fill="#000">switching factor</text>
<g fill="#000">
<text transform="translate(1889.11,295.73) scale(1.151,1)" font-size="61.33" class="gd">τ</text>
<text transform="translate(1941.53,297.19) scale(0.878,1)" font-size="59.88" class="ds">=</text>
<text transform="translate(1983.16,293.80) scale(1,1.04)" font-size="67.6">0.25</text>
<text transform="translate(1889.11,383.63) scale(1.151,1)" font-size="61.33" class="gd">τ</text>
<text transform="translate(1941.53,385.09) scale(0.878,1)" font-size="59.88" class="ds">=</text>
<text transform="translate(1983.16,381.70) scale(1,1.04)" font-size="67.6">0.50</text>
<text transform="translate(1889.11,475.53) scale(1.151,1)" font-size="61.33" class="gd">τ</text>
<text transform="translate(1941.53,476.99) scale(0.878,1)" font-size="59.88" class="ds">=</text>
<text transform="translate(1983.16,473.60) scale(1,1.04)" font-size="67.6">0.75</text>
<text transform="translate(1889.11,563.73) scale(1.151,1)" font-size="61.33" class="gd">τ</text>
<text transform="translate(1941.53,565.19) scale(0.878,1)" font-size="59.88" class="ds">=</text>
<text transform="translate(1983.16,561.80) scale(1,1.04)" font-size="67.6">1.00</text>
</g>
<circle cx="1784.6" cy="265.3" r="6.6" fill="#ff0000"/>
<path d="M1692 356H1877" stroke="#000" stroke-width="4" stroke-dasharray="37 13.6 9.5 13.6"/>
<path d="M1692 446H1877" stroke="#0072bd" stroke-width="4" stroke-dasharray="37 13.6 9.5 13.6"/>
<path d="M1766 446h38M1785 427v38" stroke="#0072bd" stroke-width="5.8" fill="none"/>
<path d="M1692 536H1877" stroke="#d95319" stroke-width="4"/>
</svg></body></html>
